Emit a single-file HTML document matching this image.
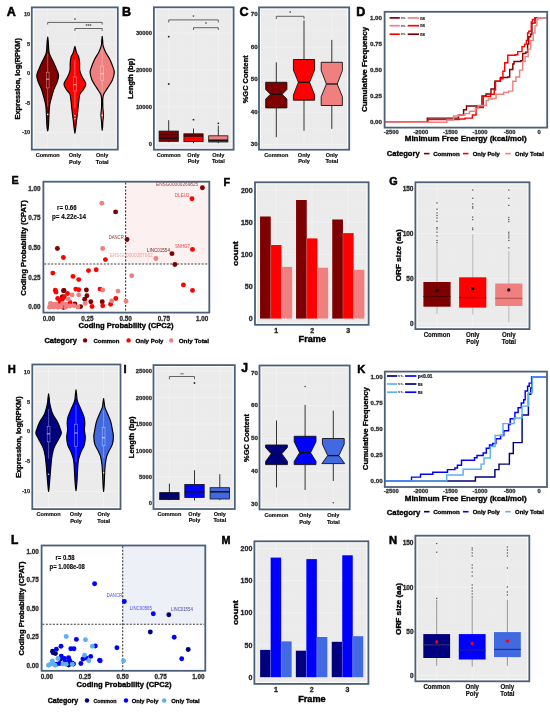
<!DOCTYPE html><html><head><meta charset="utf-8"><style>html,body{margin:0;padding:0;background:#fff;}svg{display:block;will-change:transform;filter:blur(0.3px);font-family:"Liberation Sans", sans-serif;}</style></head><body><svg width="550" height="712" viewBox="0 0 550 712"><rect width="550" height="712" fill="#fff"/><rect x="33.8" y="9.4" width="82" height="138.2" fill="#ebebeb" stroke="none" stroke-width="0"/>
<line x1="33.8" y1="29.05" x2="115.8" y2="29.05" stroke="#ffffff" stroke-width="0.6" stroke-opacity="0.22"/>
<line x1="33.8" y1="58.55" x2="115.8" y2="58.55" stroke="#ffffff" stroke-width="0.6" stroke-opacity="0.22"/>
<line x1="33.8" y1="88.05" x2="115.8" y2="88.05" stroke="#ffffff" stroke-width="0.6" stroke-opacity="0.22"/>
<line x1="33.8" y1="117.55" x2="115.8" y2="117.55" stroke="#ffffff" stroke-width="0.6" stroke-opacity="0.22"/>
<line x1="47.7" y1="9.4" x2="47.7" y2="147.6" stroke="#ffffff" stroke-width="0.9" stroke-opacity="0.36"/>
<line x1="74.9" y1="9.4" x2="74.9" y2="147.6" stroke="#ffffff" stroke-width="0.9" stroke-opacity="0.36"/>
<line x1="102.2" y1="9.4" x2="102.2" y2="147.6" stroke="#ffffff" stroke-width="0.9" stroke-opacity="0.36"/>
<line x1="33.8" y1="14.3" x2="115.8" y2="14.3" stroke="#ffffff" stroke-width="0.9" stroke-opacity="0.36"/>
<line x1="33.8" y1="43.8" x2="115.8" y2="43.8" stroke="#ffffff" stroke-width="0.9" stroke-opacity="0.36"/>
<line x1="33.8" y1="73.3" x2="115.8" y2="73.3" stroke="#ffffff" stroke-width="0.9" stroke-opacity="0.36"/>
<line x1="33.8" y1="102.8" x2="115.8" y2="102.8" stroke="#ffffff" stroke-width="0.9" stroke-opacity="0.36"/>
<line x1="33.8" y1="132.3" x2="115.8" y2="132.3" stroke="#ffffff" stroke-width="0.9" stroke-opacity="0.36"/>
<path d="M47.7,37 C47.78,37.67 48.07,39.57 48.2,41 C48.33,42.43 48.32,43.52 48.5,45.6 C48.68,47.68 48.55,50.88 49.3,53.5 C50.05,56.12 51.8,58.7 53,61.3 C54.2,63.9 55.57,66.77 56.5,69.1 C57.43,71.43 58.47,73.22 58.6,75.3 C58.73,77.38 58.08,79.25 57.3,81.6 C56.52,83.95 54.85,86.8 53.9,89.4 C52.95,92 52.3,94.6 51.6,97.2 C50.9,99.8 50.13,102.13 49.7,105 C49.27,107.87 49.18,111.27 49,114.4 C48.82,117.53 48.73,121.45 48.6,123.8 C48.47,126.15 48.35,127.3 48.2,128.5 C48.05,129.7 47.78,130.58 47.7,131 L47.7,131 C47.62,130.58 47.35,129.7 47.2,128.5 C47.05,127.3 46.93,126.15 46.8,123.8 C46.67,121.45 46.58,117.53 46.4,114.4 C46.22,111.27 46.13,107.87 45.7,105 C45.27,102.13 44.5,99.8 43.8,97.2 C43.1,94.6 42.45,92 41.5,89.4 C40.55,86.8 38.88,83.95 38.1,81.6 C37.32,79.25 36.67,77.38 36.8,75.3 C36.93,73.22 37.97,71.43 38.9,69.1 C39.83,66.77 41.2,63.9 42.4,61.3 C43.6,58.7 45.35,56.12 46.1,53.5 C46.85,50.88 46.72,47.68 46.9,45.6 C47.08,43.52 47.07,42.43 47.2,41 C47.33,39.57 47.62,37.67 47.7,37 Z" fill="#7f0000" stroke="#000" stroke-width="1.15" stroke-linejoin="round"/>
<path d="M74.9,46.4 C75.03,46.92 75.37,48.32 75.7,49.5 C76.03,50.68 76.42,52.32 76.9,53.5 C77.38,54.68 78.15,55.05 78.6,56.6 C79.05,58.15 79.4,60.45 79.6,62.8 C79.8,65.15 79.37,68.35 79.8,70.7 C80.23,73.05 81.2,74.7 82.2,76.9 C83.2,79.1 85.58,81.82 85.8,83.9 C86.02,85.98 84.48,87.7 83.5,89.4 C82.52,91.1 80.7,92.02 79.9,94.1 C79.1,96.18 79.07,99.03 78.7,101.9 C78.33,104.77 78.07,108.17 77.7,111.3 C77.33,114.43 76.83,117.92 76.5,120.7 C76.17,123.48 75.97,125.92 75.7,128 C75.43,130.08 75.03,132.33 74.9,133.2 L74.9,133.2 C74.77,132.33 74.37,130.08 74.1,128 C73.83,125.92 73.63,123.48 73.3,120.7 C72.97,117.92 72.47,114.43 72.1,111.3 C71.73,108.17 71.47,104.77 71.1,101.9 C70.73,99.03 70.7,96.18 69.9,94.1 C69.1,92.02 67.28,91.1 66.3,89.4 C65.32,87.7 63.78,85.98 64,83.9 C64.22,81.82 66.6,79.1 67.6,76.9 C68.6,74.7 69.57,73.05 70,70.7 C70.43,68.35 70,65.15 70.2,62.8 C70.4,60.45 70.75,58.15 71.2,56.6 C71.65,55.05 72.42,54.68 72.9,53.5 C73.38,52.32 73.77,50.68 74.1,49.5 C74.43,48.32 74.77,46.92 74.9,46.4 Z" fill="#ff0000" stroke="#000" stroke-width="1.15" stroke-linejoin="round"/>
<path d="M102.2,36.3 C102.28,37 102.55,38.95 102.7,40.5 C102.85,42.05 102.63,43.7 103.1,45.6 C103.57,47.5 104.35,49.55 105.5,51.9 C106.65,54.25 108.73,57.1 110,59.7 C111.27,62.3 112.38,65.37 113.1,67.5 C113.82,69.63 114.42,70.42 114.3,72.5 C114.18,74.58 113.5,77.43 112.4,80 C111.3,82.57 109.13,85.55 107.7,87.9 C106.27,90.25 104.62,92.28 103.8,94.1 C102.98,95.92 102.97,97.15 102.8,98.8 C102.63,100.45 102.78,102.43 102.8,104 C102.82,105.57 102.78,106.33 102.9,108.2 C103.02,110.07 103.52,112.85 103.5,115.2 C103.48,117.55 102.95,120.33 102.8,122.3 C102.65,124.27 102.7,125.7 102.6,127 C102.5,128.3 102.27,129.58 102.2,130.1 L102.2,130.1 C102.13,129.58 101.9,128.3 101.8,127 C101.7,125.7 101.75,124.27 101.6,122.3 C101.45,120.33 100.92,117.55 100.9,115.2 C100.88,112.85 101.38,110.07 101.5,108.2 C101.62,106.33 101.58,105.57 101.6,104 C101.62,102.43 101.77,100.45 101.6,98.8 C101.43,97.15 101.42,95.92 100.6,94.1 C99.78,92.28 98.13,90.25 96.7,87.9 C95.27,85.55 93.1,82.57 92,80 C90.9,77.43 90.22,74.58 90.1,72.5 C89.98,70.42 90.58,69.63 91.3,67.5 C92.02,65.37 93.13,62.3 94.4,59.7 C95.67,57.1 97.75,54.25 98.9,51.9 C100.05,49.55 100.83,47.5 101.3,45.6 C101.77,43.7 101.55,42.05 101.7,40.5 C101.85,38.95 102.12,37 102.2,36.3 Z" fill="#f08080" stroke="#000" stroke-width="1.15" stroke-linejoin="round"/>
<line x1="47.7" y1="53.5" x2="47.7" y2="72.2" stroke="#ffffff" stroke-width="0.6" stroke-opacity="0.55"/>
<line x1="47.7" y1="87.9" x2="47.7" y2="106.6" stroke="#ffffff" stroke-width="0.6" stroke-opacity="0.55"/>
<rect x="46.3" y="72.2" width="2.8" height="15.7" fill="none" stroke="#ffffff" stroke-width="0.6" stroke-opacity="0.55"/>
<line x1="46.3" y1="79.2" x2="49.1" y2="79.2" stroke="#ffffff" stroke-width="0.9" stroke-opacity="0.8"/>
<circle cx="47.7" cy="114.4" r="0.8" fill="#ffffff" fill-opacity="0.85"/>
<line x1="74.9" y1="59.7" x2="74.9" y2="76.9" stroke="#ffffff" stroke-width="0.6" stroke-opacity="0.55"/>
<line x1="74.9" y1="91" x2="74.9" y2="108.2" stroke="#ffffff" stroke-width="0.6" stroke-opacity="0.55"/>
<rect x="73.5" y="76.9" width="2.8" height="14.1" fill="none" stroke="#ffffff" stroke-width="0.6" stroke-opacity="0.55"/>
<line x1="73.5" y1="84.7" x2="76.3" y2="84.7" stroke="#ffffff" stroke-width="0.9" stroke-opacity="0.8"/>
<circle cx="74.9" cy="115.7" r="0.8" fill="#ffffff" fill-opacity="0.85"/>
<circle cx="74.9" cy="118.8" r="0.8" fill="#ffffff" fill-opacity="0.85"/>
<line x1="102.2" y1="48.8" x2="102.2" y2="66" stroke="#ffffff" stroke-width="0.6" stroke-opacity="0.55"/>
<line x1="102.2" y1="80.8" x2="102.2" y2="92.5" stroke="#ffffff" stroke-width="0.6" stroke-opacity="0.55"/>
<rect x="100.8" y="66" width="2.8" height="14.8" fill="none" stroke="#ffffff" stroke-width="0.6" stroke-opacity="0.55"/>
<line x1="100.8" y1="73.8" x2="103.6" y2="73.8" stroke="#ffffff" stroke-width="0.9" stroke-opacity="0.8"/>
<circle cx="102.2" cy="115.2" r="0.8" fill="#ffffff" fill-opacity="0.85"/>
<path d="M47.7,24.6 L47.7,22.4 L102.2,22.4 L102.2,24.6" fill="none" stroke="#4a4a4a" stroke-width="0.85"/>
<text x="74.95" y="21.8" font-size="5.17" text-anchor="middle" font-weight="bold" fill="#444" stroke="none">*</text>
<path d="M74.9,30.9 L74.9,28.5 L102.2,28.5 L102.2,30.9" fill="none" stroke="#4a4a4a" stroke-width="0.85"/>
<text x="88.55" y="27.7" font-size="5.17" text-anchor="middle" font-weight="bold" fill="#444" stroke="none">***</text>
<rect x="31.8" y="7.4" width="86" height="142.2" fill="none" stroke="#4c6179" stroke-width="1.8"/>
<text x="30.2" y="16.32" font-size="5.6" text-anchor="end" font-weight="bold" fill="#2a2a2a" stroke="#2a2a2a" stroke-width="0.25">10</text>
<text x="30.2" y="45.82" font-size="5.6" text-anchor="end" font-weight="bold" fill="#2a2a2a" stroke="#2a2a2a" stroke-width="0.25">5</text>
<text x="30.2" y="75.32" font-size="5.6" text-anchor="end" font-weight="bold" fill="#2a2a2a" stroke="#2a2a2a" stroke-width="0.25">0</text>
<text x="30.2" y="104.82" font-size="5.6" text-anchor="end" font-weight="bold" fill="#2a2a2a" stroke="#2a2a2a" stroke-width="0.25">-5</text>
<text x="30.2" y="134.32" font-size="5.6" text-anchor="end" font-weight="bold" fill="#2a2a2a" stroke="#2a2a2a" stroke-width="0.25">-10</text>
<text x="0" y="0" font-size="7.35" text-anchor="middle" font-weight="bold" fill="#000" transform="translate(19.7 78.8) scale(0.88 1) rotate(-90)" textLength="81.3" lengthAdjust="spacingAndGlyphs" stroke="#000" stroke-width="0.33">Expression, log(RPKM)</text>
<text x="47.7" y="156.8" font-size="6.16" text-anchor="middle" font-weight="bold" fill="#111" textLength="24.02" lengthAdjust="spacingAndGlyphs" stroke="#000" stroke-width="0.18">Common</text>
<text x="74.9" y="156.8" font-size="6.16" text-anchor="middle" font-weight="bold" fill="#111" textLength="12.32" lengthAdjust="spacingAndGlyphs" stroke="#000" stroke-width="0.18">Only</text>
<text x="74.9" y="163.6" font-size="6.16" text-anchor="middle" font-weight="bold" fill="#111" textLength="11.71" lengthAdjust="spacingAndGlyphs" stroke="#000" stroke-width="0.18">Poly</text>
<text x="102.2" y="156.8" font-size="6.16" text-anchor="middle" font-weight="bold" fill="#111" textLength="12.32" lengthAdjust="spacingAndGlyphs" stroke="#000" stroke-width="0.18">Only</text>
<text x="102.2" y="163.6" font-size="6.16" text-anchor="middle" font-weight="bold" fill="#111" textLength="12.83" lengthAdjust="spacingAndGlyphs" stroke="#000" stroke-width="0.18">Total</text>
<text x="6.8" y="16.2" font-size="12.5" text-anchor="start" font-weight="bold" fill="#000" stroke="#000" stroke-width="0.56">A</text>
<rect x="155.9" y="9.3" width="75.7" height="138.4" fill="#ebebeb" stroke="none" stroke-width="0"/>
<line x1="181.1" y1="9.3" x2="181.1" y2="147.7" stroke="#ffffff" stroke-width="0.6" stroke-opacity="0.22"/>
<line x1="205.9" y1="9.3" x2="205.9" y2="147.7" stroke="#ffffff" stroke-width="0.6" stroke-opacity="0.22"/>
<line x1="155.9" y1="125.18" x2="231.6" y2="125.18" stroke="#ffffff" stroke-width="0.6" stroke-opacity="0.22"/>
<line x1="155.9" y1="88.35" x2="231.6" y2="88.35" stroke="#ffffff" stroke-width="0.6" stroke-opacity="0.22"/>
<line x1="155.9" y1="51.52" x2="231.6" y2="51.52" stroke="#ffffff" stroke-width="0.6" stroke-opacity="0.22"/>
<line x1="155.9" y1="14.68" x2="231.6" y2="14.68" stroke="#ffffff" stroke-width="0.6" stroke-opacity="0.22"/>
<line x1="168.7" y1="9.3" x2="168.7" y2="147.7" stroke="#ffffff" stroke-width="0.9" stroke-opacity="0.36"/>
<line x1="193.5" y1="9.3" x2="193.5" y2="147.7" stroke="#ffffff" stroke-width="0.9" stroke-opacity="0.36"/>
<line x1="218.3" y1="9.3" x2="218.3" y2="147.7" stroke="#ffffff" stroke-width="0.9" stroke-opacity="0.36"/>
<line x1="155.9" y1="143.6" x2="231.6" y2="143.6" stroke="#ffffff" stroke-width="0.9" stroke-opacity="0.36"/>
<line x1="155.9" y1="106.77" x2="231.6" y2="106.77" stroke="#ffffff" stroke-width="0.9" stroke-opacity="0.36"/>
<line x1="155.9" y1="69.93" x2="231.6" y2="69.93" stroke="#ffffff" stroke-width="0.9" stroke-opacity="0.36"/>
<line x1="155.9" y1="33.1" x2="231.6" y2="33.1" stroke="#ffffff" stroke-width="0.9" stroke-opacity="0.36"/>
<line x1="168.7" y1="120.2" x2="168.7" y2="131.1" stroke="#333" stroke-width="1"/>
<line x1="168.7" y1="141.3" x2="168.7" y2="142.2" stroke="#333" stroke-width="1"/>
<rect x="159.1" y="131.1" width="19.2" height="10.2" fill="#7f0000" stroke="#111" stroke-width="0.8"/>
<line x1="159.1" y1="138.1" x2="178.3" y2="138.1" stroke="#111" stroke-width="1.4"/>
<circle cx="168.7" cy="36.7" r="0.9" fill="#222"/>
<circle cx="168.7" cy="84" r="0.9" fill="#222"/>
<line x1="159.1" y1="134.7" x2="178.3" y2="134.7" stroke="#3a0000" stroke-width="0.8"/>
<line x1="193.5" y1="128.5" x2="193.5" y2="133.8" stroke="#333" stroke-width="1"/>
<line x1="193.5" y1="141.6" x2="193.5" y2="143.2" stroke="#333" stroke-width="1"/>
<rect x="183.9" y="133.8" width="19.2" height="7.8" fill="#ff0000" stroke="#111" stroke-width="0.8"/>
<line x1="183.9" y1="135.9" x2="203.1" y2="135.9" stroke="#111" stroke-width="1.6"/>
<circle cx="193.5" cy="119.7" r="0.9" fill="#222"/>
<line x1="183.9" y1="134.6" x2="203.1" y2="134.6" stroke="#5a0000" stroke-width="1.2"/>
<line x1="218.3" y1="125.6" x2="218.3" y2="135.8" stroke="#333" stroke-width="1"/>
<line x1="218.3" y1="142" x2="218.3" y2="143.2" stroke="#333" stroke-width="1"/>
<rect x="208.7" y="135.8" width="19.2" height="6.2" fill="#f08080" stroke="#111" stroke-width="0.8"/>
<line x1="208.7" y1="140.5" x2="227.9" y2="140.5" stroke="#111" stroke-width="2"/>
<circle cx="218.3" cy="123.3" r="0.9" fill="#222"/>
<path d="M168.7,22.5 L168.7,19.9 L218.3,19.9 L218.3,22.5" fill="none" stroke="#4a4a4a" stroke-width="0.85"/>
<text x="193.5" y="19" font-size="4.83" text-anchor="middle" font-weight="bold" fill="#444" stroke="none">*</text>
<path d="M193.5,30 L193.5,27.7 L218.3,27.7 L218.3,30" fill="none" stroke="#4a4a4a" stroke-width="0.85"/>
<text x="205.9" y="26.2" font-size="4.83" text-anchor="middle" font-weight="bold" fill="#444" stroke="none">*</text>
<rect x="153.9" y="7.3" width="79.7" height="142.4" fill="none" stroke="#4c6179" stroke-width="1.8"/>
<text x="152" y="35.19" font-size="5.8" text-anchor="end" font-weight="bold" fill="#2a2a2a" stroke="#2a2a2a" stroke-width="0.26">30000</text>
<text x="152" y="72.02" font-size="5.8" text-anchor="end" font-weight="bold" fill="#2a2a2a" stroke="#2a2a2a" stroke-width="0.26">20000</text>
<text x="152" y="108.85" font-size="5.8" text-anchor="end" font-weight="bold" fill="#2a2a2a" stroke="#2a2a2a" stroke-width="0.26">10000</text>
<text x="152" y="145.69" font-size="5.8" text-anchor="end" font-weight="bold" fill="#2a2a2a" stroke="#2a2a2a" stroke-width="0.26">0</text>
<text x="0" y="0" font-size="7.35" text-anchor="middle" font-weight="bold" fill="#000" transform="translate(132.6 78.5) scale(0.88 1) rotate(-90)" stroke="#000" stroke-width="0.33">Length (bp)</text>
<text x="168.7" y="156.9" font-size="6.16" text-anchor="middle" font-weight="bold" fill="#111" textLength="24.02" lengthAdjust="spacingAndGlyphs" stroke="#000" stroke-width="0.18">Common</text>
<text x="193.5" y="156.9" font-size="6.16" text-anchor="middle" font-weight="bold" fill="#111" textLength="12.32" lengthAdjust="spacingAndGlyphs" stroke="#000" stroke-width="0.18">Only</text>
<text x="193.5" y="163.2" font-size="6.16" text-anchor="middle" font-weight="bold" fill="#111" textLength="11.71" lengthAdjust="spacingAndGlyphs" stroke="#000" stroke-width="0.18">Poly</text>
<text x="218.3" y="156.9" font-size="6.16" text-anchor="middle" font-weight="bold" fill="#111" textLength="12.32" lengthAdjust="spacingAndGlyphs" stroke="#000" stroke-width="0.18">Only</text>
<text x="218.3" y="163.2" font-size="6.16" text-anchor="middle" font-weight="bold" fill="#111" textLength="12.83" lengthAdjust="spacingAndGlyphs" stroke="#000" stroke-width="0.18">Total</text>
<text x="122" y="16.2" font-size="12.5" text-anchor="start" font-weight="bold" fill="#000" stroke="#000" stroke-width="0.56">B</text>
<rect x="261" y="9.4" width="86.2" height="138.3" fill="#ebebeb" stroke="none" stroke-width="0"/>
<line x1="290.15" y1="9.4" x2="290.15" y2="147.7" stroke="#ffffff" stroke-width="0.6" stroke-opacity="0.22"/>
<line x1="317.9" y1="9.4" x2="317.9" y2="147.7" stroke="#ffffff" stroke-width="0.6" stroke-opacity="0.22"/>
<line x1="261" y1="128.45" x2="347.2" y2="128.45" stroke="#ffffff" stroke-width="0.6" stroke-opacity="0.22"/>
<line x1="261" y1="95.95" x2="347.2" y2="95.95" stroke="#ffffff" stroke-width="0.6" stroke-opacity="0.22"/>
<line x1="261" y1="63.45" x2="347.2" y2="63.45" stroke="#ffffff" stroke-width="0.6" stroke-opacity="0.22"/>
<line x1="261" y1="30.95" x2="347.2" y2="30.95" stroke="#ffffff" stroke-width="0.6" stroke-opacity="0.22"/>
<line x1="276.3" y1="9.4" x2="276.3" y2="147.7" stroke="#ffffff" stroke-width="0.9" stroke-opacity="0.36"/>
<line x1="304" y1="9.4" x2="304" y2="147.7" stroke="#ffffff" stroke-width="0.9" stroke-opacity="0.36"/>
<line x1="331.8" y1="9.4" x2="331.8" y2="147.7" stroke="#ffffff" stroke-width="0.9" stroke-opacity="0.36"/>
<line x1="261" y1="144.7" x2="347.2" y2="144.7" stroke="#ffffff" stroke-width="0.9" stroke-opacity="0.36"/>
<line x1="261" y1="112.2" x2="347.2" y2="112.2" stroke="#ffffff" stroke-width="0.9" stroke-opacity="0.36"/>
<line x1="261" y1="79.7" x2="347.2" y2="79.7" stroke="#ffffff" stroke-width="0.9" stroke-opacity="0.36"/>
<line x1="261" y1="47.2" x2="347.2" y2="47.2" stroke="#ffffff" stroke-width="0.9" stroke-opacity="0.36"/>
<line x1="261" y1="14.7" x2="347.2" y2="14.7" stroke="#ffffff" stroke-width="0.9" stroke-opacity="0.36"/>
<line x1="276.3" y1="62.3" x2="276.3" y2="82.3" stroke="#333" stroke-width="1"/>
<line x1="276.3" y1="107.9" x2="276.3" y2="137.2" stroke="#333" stroke-width="1"/>
<path d="M265.7,82.3 L286.9,82.3 L286.9,89.5 L282.1,94.3 L286.9,99 L286.9,107.9 L265.7,107.9 L265.7,99 L270.5,94.3 L265.7,89.5 Z" fill="#7f0000" stroke="#111" stroke-width="0.9" stroke-linejoin="miter"/>
<line x1="270.5" y1="94.3" x2="282.1" y2="94.3" stroke="#111" stroke-width="1.3"/>
<line x1="304" y1="20.4" x2="304" y2="59.5" stroke="#333" stroke-width="1"/>
<line x1="304" y1="100.2" x2="304" y2="130.8" stroke="#333" stroke-width="1"/>
<path d="M293.4,59.5 L314.6,59.5 L314.6,70 L309.6,82.3 L314.6,95 L314.6,100.2 L293.4,100.2 L293.4,95 L298.4,82.3 L293.4,70 Z" fill="#ff0000" stroke="#111" stroke-width="0.9" stroke-linejoin="miter"/>
<line x1="298.4" y1="82.3" x2="309.6" y2="82.3" stroke="#111" stroke-width="1.3"/>
<line x1="331.8" y1="39.9" x2="331.8" y2="62.3" stroke="#333" stroke-width="1"/>
<line x1="331.8" y1="105.5" x2="331.8" y2="128.9" stroke="#333" stroke-width="1"/>
<path d="M321.2,62.3 L342.4,62.3 L342.4,70.5 L337.2,84 L342.4,96.7 L342.4,105.5 L321.2,105.5 L321.2,96.7 L326.4,84 L321.2,70.5 Z" fill="#f08080" stroke="#111" stroke-width="0.9" stroke-linejoin="miter"/>
<line x1="326.4" y1="84" x2="337.2" y2="84" stroke="#111" stroke-width="1.3"/>
<path d="M276.3,19 L276.3,16.3 L304,16.3 L304,19" fill="none" stroke="#4a4a4a" stroke-width="0.85"/>
<text x="290.15" y="15" font-size="4.83" text-anchor="middle" font-weight="bold" fill="#444" stroke="none">*</text>
<rect x="259" y="7.4" width="90.2" height="142.3" fill="none" stroke="#4c6179" stroke-width="1.8"/>
<text x="257.7" y="16.4" font-size="6.2" text-anchor="end" font-weight="bold" fill="#2a2a2a" stroke="#2a2a2a" stroke-width="0.28">70</text>
<text x="257.7" y="48.9" font-size="6.2" text-anchor="end" font-weight="bold" fill="#2a2a2a" stroke="#2a2a2a" stroke-width="0.28">60</text>
<text x="257.7" y="81.4" font-size="6.2" text-anchor="end" font-weight="bold" fill="#2a2a2a" stroke="#2a2a2a" stroke-width="0.28">50</text>
<text x="257.7" y="113.9" font-size="6.2" text-anchor="end" font-weight="bold" fill="#2a2a2a" stroke="#2a2a2a" stroke-width="0.28">40</text>
<text x="257.7" y="146.4" font-size="6.2" text-anchor="end" font-weight="bold" fill="#2a2a2a" stroke="#2a2a2a" stroke-width="0.28">30</text>
<text x="0" y="0" font-size="7.4" text-anchor="middle" font-weight="bold" fill="#000" transform="translate(248.2 79.3) scale(0.88 1) rotate(-90)" textLength="47.9" lengthAdjust="spacingAndGlyphs" stroke="#000" stroke-width="0.33">%GC Content</text>
<text x="276.3" y="156.9" font-size="6.16" text-anchor="middle" font-weight="bold" fill="#111" textLength="24.02" lengthAdjust="spacingAndGlyphs" stroke="#000" stroke-width="0.18">Common</text>
<text x="304" y="156.9" font-size="6.16" text-anchor="middle" font-weight="bold" fill="#111" textLength="12.32" lengthAdjust="spacingAndGlyphs" stroke="#000" stroke-width="0.18">Only</text>
<text x="304" y="163.2" font-size="6.16" text-anchor="middle" font-weight="bold" fill="#111" textLength="11.71" lengthAdjust="spacingAndGlyphs" stroke="#000" stroke-width="0.18">Poly</text>
<text x="331.8" y="156.9" font-size="6.16" text-anchor="middle" font-weight="bold" fill="#111" textLength="12.32" lengthAdjust="spacingAndGlyphs" stroke="#000" stroke-width="0.18">Only</text>
<text x="331.8" y="163.2" font-size="6.16" text-anchor="middle" font-weight="bold" fill="#111" textLength="12.83" lengthAdjust="spacingAndGlyphs" stroke="#000" stroke-width="0.18">Total</text>
<text x="239.6" y="15.8" font-size="12.5" text-anchor="start" font-weight="bold" fill="#000" stroke="#000" stroke-width="0.56">C</text>
<rect x="384.6" y="11.8" width="162.6" height="115.8" fill="#ffffff" stroke="none" stroke-width="0"/>
<path d="M385.4,122.2 L427.3,122.2 L427.3,118.1 L458.5,118.1 L458.5,114.9 L463.6,114.9 L463.6,109.8 L466.5,109.8 L466.5,105.9 L482,105.9 L482,96 L486,96 L486,94 L491,94 L491,89 L494.8,89 L494.8,81.2 L500.4,81.2 L500.4,77.5 L507.8,77.5 L507.8,76.9 L509.7,76.9 L509.7,69.5 L512.8,69.5 L512.8,63.9 L514,63.9 L514,61.5 L520.8,61.5 L520.8,60.8 L522.7,60.8 L522.7,53.4 L525.7,53.4 L525.7,52.2 L527.6,52.2 L527.6,44.1 L528.8,44.1 L528.8,36.7 L530.7,36.7 L530.7,34.3 L531.9,34.3 L531.9,23.1 L535,23.1 L535,17.6 L546.4,17.6" fill="none" stroke="#7f0000" stroke-width="1.45" stroke-linejoin="miter"/>
<path d="M385.4,122.2 L428,122.2 L428,119.6 L459.3,119.6 L459.3,119 L465,119 L465,118.1 L472.4,118.1 L472.4,114.9 L476,114.9 L476,107.6 L483.3,107.6 L483.3,96.5 L490.5,96.5 L490.5,94.2 L494.2,94.2 L494.2,89.9 L495.5,89.9 L495.5,81.2 L500.4,81.2 L500.4,78.8 L502.9,78.8 L502.9,71.3 L504.7,71.3 L504.7,62.7 L507.8,62.7 L507.8,55.3 L515.2,55.3 L515.2,54.7 L517.7,54.7 L517.7,51.6 L522,51.6 L522,46.6 L524.5,46.6 L524.5,44.1 L526.4,44.1 L526.4,40.4 L527.6,40.4 L527.6,33 L528.8,33 L528.8,31.2 L531.3,31.2 L531.3,21.9 L532.5,21.9 L532.5,19.4 L535,19.4 L535,17.6 L546.4,17.6" fill="none" stroke="#ff0000" stroke-width="1.45" stroke-linejoin="miter"/>
<path d="M385.4,122.2 L446.9,122.2 L446.9,120 L453.5,120 L453.5,116 L458.5,116 L458.5,114.9 L465,114.9 L465,113.6 L469.5,113.6 L469.5,111.3 L475.3,111.3 L475.3,108.4 L478.2,108.4 L478.2,105.5 L486.2,105.5 L486.2,100.4 L488.4,100.4 L488.4,99 L492.4,99 L492.4,98.5 L496.1,98.5 L496.1,94.2 L503.5,94.2 L503.5,92.4 L508.4,92.4 L508.4,91.1 L512.8,91.1 L512.8,81.2 L515.9,81.2 L515.9,76.9 L519.6,76.9 L519.6,70.1 L522.7,70.1 L522.7,61.5 L525.1,61.5 L525.1,56.5 L528.2,56.5 L528.2,49.1 L530.7,49.1 L530.7,40.4 L533.2,40.4 L533.2,33 L535,33 L535,25.6 L536.9,25.6 L536.9,19.4 L538.1,19.4 L538.1,17.6 L546.4,17.6" fill="none" stroke="#f08080" stroke-width="1.45" stroke-linejoin="miter"/>
<line x1="389.6" y1="17.9" x2="399.8" y2="17.9" stroke="#7f0000" stroke-width="1.7"/>
<text x="400.7" y="19.1" font-size="3.8" text-anchor="start" font-weight="bold" fill="#333" textLength="5.8" lengthAdjust="spacingAndGlyphs" stroke="none">vs.</text>
<line x1="407.7" y1="17.9" x2="419" y2="17.9" stroke="#f08080" stroke-width="1.7"/>
<text x="420.3" y="19.5" font-size="4.6" text-anchor="start" font-weight="bold" fill="#111" textLength="4.6" lengthAdjust="spacingAndGlyphs" stroke="#111" stroke-width="0.21">ns</text>
<line x1="389.6" y1="25.7" x2="399.8" y2="25.7" stroke="#f08080" stroke-width="1.7"/>
<text x="400.7" y="26.9" font-size="3.8" text-anchor="start" font-weight="bold" fill="#333" textLength="5.8" lengthAdjust="spacingAndGlyphs" stroke="none">vs.</text>
<line x1="407.7" y1="25.7" x2="419" y2="25.7" stroke="#ff0000" stroke-width="1.7"/>
<text x="420.3" y="27.3" font-size="4.6" text-anchor="start" font-weight="bold" fill="#111" textLength="4.6" lengthAdjust="spacingAndGlyphs" stroke="#111" stroke-width="0.21">ns</text>
<line x1="389.6" y1="34.2" x2="399.8" y2="34.2" stroke="#ff0000" stroke-width="1.7"/>
<text x="400.7" y="35.4" font-size="3.8" text-anchor="start" font-weight="bold" fill="#333" textLength="5.8" lengthAdjust="spacingAndGlyphs" stroke="none">vs.</text>
<line x1="407.7" y1="34.2" x2="419" y2="34.2" stroke="#7f0000" stroke-width="1.7"/>
<text x="420.3" y="35.8" font-size="4.6" text-anchor="start" font-weight="bold" fill="#111" textLength="4.6" lengthAdjust="spacingAndGlyphs" stroke="#111" stroke-width="0.21">ns</text>
<rect x="384.6" y="11.8" width="162.6" height="115.8" fill="none" stroke="#4c6179" stroke-width="1.8"/>
<text x="382" y="19.83" font-size="6.2" text-anchor="end" font-weight="bold" fill="#2a2a2a" stroke="#2a2a2a" stroke-width="0.28">1.00</text>
<text x="382" y="45.98" font-size="6.2" text-anchor="end" font-weight="bold" fill="#2a2a2a" stroke="#2a2a2a" stroke-width="0.28">0.75</text>
<text x="382" y="72.13" font-size="6.2" text-anchor="end" font-weight="bold" fill="#2a2a2a" stroke="#2a2a2a" stroke-width="0.28">0.50</text>
<text x="382" y="98.28" font-size="6.2" text-anchor="end" font-weight="bold" fill="#2a2a2a" stroke="#2a2a2a" stroke-width="0.28">0.25</text>
<text x="382" y="124.43" font-size="6.2" text-anchor="end" font-weight="bold" fill="#2a2a2a" stroke="#2a2a2a" stroke-width="0.28">0.00</text>
<text x="391.2" y="133.7" font-size="5.8" text-anchor="middle" font-weight="bold" fill="#2a2a2a" stroke="#2a2a2a" stroke-width="0.26">-2500</text>
<text x="420.8" y="133.7" font-size="5.8" text-anchor="middle" font-weight="bold" fill="#2a2a2a" stroke="#2a2a2a" stroke-width="0.26">-2000</text>
<text x="450.4" y="133.7" font-size="5.8" text-anchor="middle" font-weight="bold" fill="#2a2a2a" stroke="#2a2a2a" stroke-width="0.26">-1500</text>
<text x="480" y="133.7" font-size="5.8" text-anchor="middle" font-weight="bold" fill="#2a2a2a" stroke="#2a2a2a" stroke-width="0.26">-1000</text>
<text x="509.6" y="133.7" font-size="5.8" text-anchor="middle" font-weight="bold" fill="#2a2a2a" stroke="#2a2a2a" stroke-width="0.26">-500</text>
<text x="539.2" y="133.7" font-size="5.8" text-anchor="middle" font-weight="bold" fill="#2a2a2a" stroke="#2a2a2a" stroke-width="0.26">0</text>
<text x="465.7" y="141.4" font-size="7.9" text-anchor="middle" font-weight="bold" fill="#000" textLength="121.8" lengthAdjust="spacingAndGlyphs" stroke="#000" stroke-width="0.36">Minimum Free Energy (kcal/mol)</text>
<text x="0" y="0" font-size="7.95" text-anchor="middle" font-weight="bold" fill="#000" transform="translate(367.3 69.5) scale(0.88 1) rotate(-90)" textLength="85.2" lengthAdjust="spacingAndGlyphs" stroke="#000" stroke-width="0.36">Cumulative Frequency</text>
<text x="386.8" y="156" font-size="7.57" text-anchor="start" font-weight="bold" fill="#000" textLength="32.8" lengthAdjust="spacingAndGlyphs" stroke="#000" stroke-width="0.34">Category</text>
<line x1="424" y1="153.6" x2="429.5" y2="153.6" stroke="#7f0000" stroke-width="1.6"/>
<text x="433.2" y="155.6" font-size="5.9" text-anchor="start" font-weight="bold" fill="#000" textLength="26.6" lengthAdjust="spacingAndGlyphs" stroke="#000" stroke-width="0.27">Common</text>
<line x1="463" y1="153.6" x2="468.5" y2="153.6" stroke="#ff0000" stroke-width="1.6"/>
<text x="472.7" y="155.6" font-size="5.9" text-anchor="start" font-weight="bold" fill="#000" textLength="27.2" lengthAdjust="spacingAndGlyphs" stroke="#000" stroke-width="0.27">Only Poly</text>
<line x1="505.3" y1="153.6" x2="510.8" y2="153.6" stroke="#f08080" stroke-width="1.6"/>
<text x="515.1" y="155.6" font-size="5.9" text-anchor="start" font-weight="bold" fill="#000" textLength="28.7" lengthAdjust="spacingAndGlyphs" stroke="#000" stroke-width="0.27">Only Total</text>
<text x="356.3" y="15.8" font-size="12.5" text-anchor="start" font-weight="bold" fill="#000" stroke="#000" stroke-width="0.56">D</text>
<rect x="43.4" y="181.7" width="165.9" height="130.9" fill="#ffffff" stroke="none" stroke-width="0"/>
<rect x="125.6" y="181.7" width="83.7" height="82.3" fill="#fdf0f0" stroke="none" stroke-width="0"/>
<line x1="125.6" y1="182.5" x2="125.6" y2="311.8" stroke="#3a3a3a" stroke-width="1.1" stroke-dasharray="2.0,1.5"/>
<line x1="44.2" y1="264" x2="208.5" y2="264" stroke="#3a3a3a" stroke-width="1.1" stroke-dasharray="2.0,1.5"/>
<circle cx="202.4" cy="187.7" r="2.45" fill="#7f0000"/>
<circle cx="115.6" cy="211.9" r="2.45" fill="#7f0000"/>
<circle cx="127" cy="239.5" r="2.45" fill="#7f0000"/>
<circle cx="57.4" cy="248.5" r="2.45" fill="#7f0000"/>
<circle cx="172" cy="253.6" r="2.45" fill="#7f0000"/>
<circle cx="174.9" cy="264.5" r="2.45" fill="#7f0000"/>
<circle cx="63.5" cy="290.8" r="2.45" fill="#7f0000"/>
<circle cx="86.4" cy="290" r="2.45" fill="#7f0000"/>
<circle cx="62.3" cy="296.8" r="2.45" fill="#7f0000"/>
<circle cx="86.9" cy="295.7" r="2.45" fill="#7f0000"/>
<circle cx="84.7" cy="299.3" r="2.45" fill="#7f0000"/>
<circle cx="90.8" cy="301.7" r="2.45" fill="#7f0000"/>
<circle cx="102.2" cy="301.7" r="2.45" fill="#7f0000"/>
<circle cx="74.9" cy="303.9" r="2.45" fill="#7f0000"/>
<circle cx="80.6" cy="306.6" r="2.45" fill="#7f0000"/>
<circle cx="64" cy="290.5" r="2.45" fill="#7f0000"/>
<circle cx="57" cy="306" r="2.45" fill="#7f0000"/>
<circle cx="192" cy="198.7" r="2.45" fill="#ff0000"/>
<circle cx="192.5" cy="249.4" r="2.45" fill="#ff0000"/>
<circle cx="105.4" cy="259.6" r="2.45" fill="#ff0000"/>
<circle cx="63.4" cy="257.5" r="2.45" fill="#ff0000"/>
<circle cx="183.4" cy="284.9" r="2.45" fill="#ff0000"/>
<circle cx="192.5" cy="290.4" r="2.45" fill="#ff0000"/>
<circle cx="52.8" cy="273.1" r="2.45" fill="#ff0000"/>
<circle cx="73" cy="276.4" r="2.45" fill="#ff0000"/>
<circle cx="78.7" cy="279.6" r="2.45" fill="#ff0000"/>
<circle cx="88.5" cy="270.6" r="2.45" fill="#ff0000"/>
<circle cx="96.2" cy="269.8" r="2.45" fill="#ff0000"/>
<circle cx="55.3" cy="290.3" r="2.45" fill="#ff0000"/>
<circle cx="56" cy="292" r="2.45" fill="#ff0000"/>
<circle cx="67.5" cy="293.5" r="2.45" fill="#ff0000"/>
<circle cx="75.7" cy="289.1" r="2.45" fill="#ff0000"/>
<circle cx="78.7" cy="289.8" r="2.45" fill="#ff0000"/>
<circle cx="100" cy="289.1" r="2.45" fill="#ff0000"/>
<circle cx="57.7" cy="298.5" r="2.45" fill="#ff0000"/>
<circle cx="62.3" cy="299.3" r="2.45" fill="#ff0000"/>
<circle cx="64.3" cy="296.8" r="2.45" fill="#ff0000"/>
<circle cx="115.8" cy="298.5" r="2.45" fill="#ff0000"/>
<circle cx="110.6" cy="304.2" r="2.45" fill="#ff0000"/>
<circle cx="102.7" cy="305.8" r="2.45" fill="#ff0000"/>
<circle cx="70" cy="302.5" r="2.45" fill="#ff0000"/>
<circle cx="63.5" cy="307.5" r="2.45" fill="#ff0000"/>
<circle cx="92" cy="306.5" r="2.45" fill="#ff0000"/>
<circle cx="60" cy="302" r="2.45" fill="#ff0000"/>
<circle cx="101.8" cy="203.2" r="2.45" fill="#f08080"/>
<circle cx="102.7" cy="248.5" r="2.45" fill="#f08080"/>
<circle cx="155.9" cy="258.5" r="2.45" fill="#f08080"/>
<circle cx="131.7" cy="275.7" r="2.45" fill="#f08080"/>
<circle cx="126" cy="301.3" r="2.45" fill="#f08080"/>
<circle cx="118" cy="291.1" r="2.45" fill="#f08080"/>
<circle cx="102.7" cy="290" r="2.45" fill="#f08080"/>
<circle cx="72.1" cy="294.9" r="2.45" fill="#f08080"/>
<circle cx="78.7" cy="294.9" r="2.45" fill="#f08080"/>
<circle cx="68.4" cy="299.3" r="2.45" fill="#f08080"/>
<circle cx="85.2" cy="303.4" r="2.45" fill="#f08080"/>
<circle cx="111.7" cy="300.9" r="2.45" fill="#f08080"/>
<circle cx="50.4" cy="303.4" r="2.45" fill="#f08080"/>
<circle cx="52.8" cy="304.2" r="2.45" fill="#f08080"/>
<circle cx="51.2" cy="306.6" r="2.45" fill="#f08080"/>
<circle cx="56.1" cy="304.2" r="2.45" fill="#f08080"/>
<circle cx="59.4" cy="305.8" r="2.45" fill="#f08080"/>
<circle cx="62.6" cy="303.4" r="2.45" fill="#f08080"/>
<circle cx="65.9" cy="304.2" r="2.45" fill="#f08080"/>
<circle cx="74.1" cy="305.8" r="2.45" fill="#f08080"/>
<circle cx="54" cy="307" r="2.45" fill="#f08080"/>
<circle cx="58" cy="307.2" r="2.45" fill="#f08080"/>
<circle cx="66" cy="307" r="2.45" fill="#f08080"/>
<circle cx="70" cy="306" r="2.45" fill="#f08080"/>
<circle cx="49.5" cy="307.2" r="2.45" fill="#f08080"/>
<circle cx="61" cy="306.8" r="2.45" fill="#f08080"/>
<circle cx="78" cy="307" r="2.45" fill="#f08080"/>
<text x="177.1" y="186.4" font-size="4.7" text-anchor="middle" font-weight="normal" fill="#9c3c3c" textLength="42.1" lengthAdjust="spacingAndGlyphs">ENSG00000269825</text>
<text x="182.2" y="197" font-size="4.7" text-anchor="middle" font-weight="normal" fill="#ff4040" textLength="14.8" lengthAdjust="spacingAndGlyphs">DLEU2</text>
<text x="116.2" y="238.6" font-size="4.7" text-anchor="middle" font-weight="normal" fill="#8c3030" textLength="15" lengthAdjust="spacingAndGlyphs">DANCR</text>
<text x="182.4" y="248.4" font-size="4.7" text-anchor="middle" font-weight="normal" fill="#ff4040" textLength="15" lengthAdjust="spacingAndGlyphs">SNHG7</text>
<text x="158.4" y="252.4" font-size="4.7" text-anchor="middle" font-weight="normal" fill="#7a2020" textLength="23.1" lengthAdjust="spacingAndGlyphs">LINC01554</text>
<text x="131.2" y="257.1" font-size="4.7" text-anchor="middle" font-weight="normal" fill="#f4a0a0" textLength="43.1" lengthAdjust="spacingAndGlyphs">ENSG00000287062</text>
<text x="66.9" y="209.9" font-size="6.8" text-anchor="middle" font-weight="bold" fill="#000" textLength="19.6" lengthAdjust="spacingAndGlyphs" stroke="#000" stroke-width="0.1">r= 0.66</text>
<text x="69" y="219.2" font-size="6.8" text-anchor="middle" font-weight="bold" fill="#000" textLength="34.1" lengthAdjust="spacingAndGlyphs" stroke="#000" stroke-width="0.1">p= 4.22e-14</text>
<rect x="43.4" y="181.7" width="165.9" height="130.9" fill="none" stroke="#4c6179" stroke-width="1.8"/>
<text x="40.4" y="190.57" font-size="6.3" text-anchor="end" font-weight="bold" fill="#2a2a2a" stroke="#2a2a2a" stroke-width="0.28">1.00</text>
<text x="40.4" y="220.29" font-size="6.3" text-anchor="end" font-weight="bold" fill="#2a2a2a" stroke="#2a2a2a" stroke-width="0.28">0.75</text>
<text x="40.4" y="250.02" font-size="6.3" text-anchor="end" font-weight="bold" fill="#2a2a2a" stroke="#2a2a2a" stroke-width="0.28">0.50</text>
<text x="40.4" y="279.74" font-size="6.3" text-anchor="end" font-weight="bold" fill="#2a2a2a" stroke="#2a2a2a" stroke-width="0.28">0.25</text>
<text x="40.4" y="309.47" font-size="6.3" text-anchor="end" font-weight="bold" fill="#2a2a2a" stroke="#2a2a2a" stroke-width="0.28">0.00</text>
<text x="49" y="320.6" font-size="6.3" text-anchor="middle" font-weight="bold" fill="#2a2a2a" stroke="#2a2a2a" stroke-width="0.28">0.00</text>
<text x="87.3" y="320.6" font-size="6.3" text-anchor="middle" font-weight="bold" fill="#2a2a2a" stroke="#2a2a2a" stroke-width="0.28">0.25</text>
<text x="125.6" y="320.6" font-size="6.3" text-anchor="middle" font-weight="bold" fill="#2a2a2a" stroke="#2a2a2a" stroke-width="0.28">0.50</text>
<text x="163.9" y="320.6" font-size="6.3" text-anchor="middle" font-weight="bold" fill="#2a2a2a" stroke="#2a2a2a" stroke-width="0.28">0.75</text>
<text x="202.2" y="320.6" font-size="6.3" text-anchor="middle" font-weight="bold" fill="#2a2a2a" stroke="#2a2a2a" stroke-width="0.28">1.00</text>
<text x="126" y="328.3" font-size="7.6" text-anchor="middle" font-weight="bold" fill="#000" stroke="#000" stroke-width="0.34">Coding Probability (CPC2)</text>
<text x="0" y="0" font-size="7.7" text-anchor="middle" font-weight="bold" fill="#000" transform="translate(26.2 247.9) scale(0.88 1) rotate(-90)" stroke="#000" stroke-width="0.35">Coding Probability (CPAT)</text>
<text x="44.4" y="343" font-size="7.5" text-anchor="start" font-weight="bold" fill="#000" textLength="32.4" lengthAdjust="spacingAndGlyphs" stroke="#000" stroke-width="0.34">Category</text>
<circle cx="85.1" cy="340.4" r="2.2" fill="#7f0000"/>
<text x="93.4" y="342.5" font-size="6" text-anchor="start" font-weight="bold" fill="#000" textLength="26" lengthAdjust="spacingAndGlyphs" stroke="#000" stroke-width="0.27">Common</text>
<circle cx="128.6" cy="340.4" r="2.2" fill="#ff0000"/>
<text x="135.5" y="342.5" font-size="6" text-anchor="start" font-weight="bold" fill="#000" textLength="28" lengthAdjust="spacingAndGlyphs" stroke="#000" stroke-width="0.27">Only Poly</text>
<circle cx="171.2" cy="340.4" r="2.2" fill="#f08080"/>
<text x="178.7" y="342.5" font-size="6" text-anchor="start" font-weight="bold" fill="#000" textLength="30.3" lengthAdjust="spacingAndGlyphs" stroke="#000" stroke-width="0.27">Only Total</text>
<text x="11.6" y="184.2" font-size="10.8" text-anchor="start" font-weight="bold" fill="#000" stroke="#000" stroke-width="0.49">E</text>
<rect x="257" y="184.3" width="109.6" height="138.5" fill="#ebebeb" stroke="none" stroke-width="0"/>
<line x1="294.1" y1="184.3" x2="294.1" y2="322.8" stroke="#ffffff" stroke-width="0.6" stroke-opacity="0.22"/>
<line x1="330.2" y1="184.3" x2="330.2" y2="322.8" stroke="#ffffff" stroke-width="0.6" stroke-opacity="0.22"/>
<line x1="257" y1="302.53" x2="366.6" y2="302.53" stroke="#ffffff" stroke-width="0.6" stroke-opacity="0.22"/>
<line x1="257" y1="270.38" x2="366.6" y2="270.38" stroke="#ffffff" stroke-width="0.6" stroke-opacity="0.22"/>
<line x1="257" y1="238.23" x2="366.6" y2="238.23" stroke="#ffffff" stroke-width="0.6" stroke-opacity="0.22"/>
<line x1="257" y1="206.08" x2="366.6" y2="206.08" stroke="#ffffff" stroke-width="0.6" stroke-opacity="0.22"/>
<line x1="276.1" y1="184.3" x2="276.1" y2="322.8" stroke="#ffffff" stroke-width="0.9" stroke-opacity="0.36"/>
<line x1="312.1" y1="184.3" x2="312.1" y2="322.8" stroke="#ffffff" stroke-width="0.9" stroke-opacity="0.36"/>
<line x1="348.3" y1="184.3" x2="348.3" y2="322.8" stroke="#ffffff" stroke-width="0.9" stroke-opacity="0.36"/>
<line x1="257" y1="318.6" x2="366.6" y2="318.6" stroke="#ffffff" stroke-width="0.9" stroke-opacity="0.36"/>
<line x1="257" y1="286.45" x2="366.6" y2="286.45" stroke="#ffffff" stroke-width="0.9" stroke-opacity="0.36"/>
<line x1="257" y1="254.3" x2="366.6" y2="254.3" stroke="#ffffff" stroke-width="0.9" stroke-opacity="0.36"/>
<line x1="257" y1="222.15" x2="366.6" y2="222.15" stroke="#ffffff" stroke-width="0.9" stroke-opacity="0.36"/>
<line x1="257" y1="190" x2="366.6" y2="190" stroke="#ffffff" stroke-width="0.9" stroke-opacity="0.36"/>
<rect x="260.05" y="216.5" width="10.7" height="102.1" fill="#7f0000" stroke="none" stroke-width="0"/>
<rect x="270.75" y="245" width="10.7" height="73.6" fill="#ff0000" stroke="none" stroke-width="0"/>
<line x1="270.75" y1="245" x2="270.75" y2="318.6" stroke="#ffffff" stroke-width="0.35" stroke-opacity="0.5"/>
<rect x="281.45" y="266.9" width="10.7" height="51.7" fill="#f08080" stroke="none" stroke-width="0"/>
<line x1="281.45" y1="266.9" x2="281.45" y2="318.6" stroke="#ffffff" stroke-width="0.35" stroke-opacity="0.5"/>
<rect x="296.05" y="200" width="10.7" height="118.6" fill="#7f0000" stroke="none" stroke-width="0"/>
<rect x="306.75" y="238.4" width="10.7" height="80.2" fill="#ff0000" stroke="none" stroke-width="0"/>
<line x1="306.75" y1="238.4" x2="306.75" y2="318.6" stroke="#ffffff" stroke-width="0.35" stroke-opacity="0.5"/>
<rect x="317.45" y="267.7" width="10.7" height="50.9" fill="#f08080" stroke="none" stroke-width="0"/>
<line x1="317.45" y1="267.7" x2="317.45" y2="318.6" stroke="#ffffff" stroke-width="0.35" stroke-opacity="0.5"/>
<rect x="332.25" y="219.5" width="10.7" height="99.1" fill="#7f0000" stroke="none" stroke-width="0"/>
<rect x="342.95" y="233.1" width="10.7" height="85.5" fill="#ff0000" stroke="none" stroke-width="0"/>
<line x1="342.95" y1="233.1" x2="342.95" y2="318.6" stroke="#ffffff" stroke-width="0.35" stroke-opacity="0.5"/>
<rect x="353.65" y="269.8" width="10.7" height="48.8" fill="#f08080" stroke="none" stroke-width="0"/>
<line x1="353.65" y1="269.8" x2="353.65" y2="318.6" stroke="#ffffff" stroke-width="0.35" stroke-opacity="0.5"/>
<rect x="255" y="182.3" width="113.6" height="142.5" fill="none" stroke="#4c6179" stroke-width="1.8"/>
<text x="252.6" y="192.52" font-size="7" text-anchor="end" font-weight="bold" fill="#2a2a2a" stroke="#2a2a2a" stroke-width="0.32">200</text>
<text x="252.6" y="224.67" font-size="7" text-anchor="end" font-weight="bold" fill="#2a2a2a" stroke="#2a2a2a" stroke-width="0.32">150</text>
<text x="252.6" y="256.82" font-size="7" text-anchor="end" font-weight="bold" fill="#2a2a2a" stroke="#2a2a2a" stroke-width="0.32">100</text>
<text x="252.6" y="288.97" font-size="7" text-anchor="end" font-weight="bold" fill="#2a2a2a" stroke="#2a2a2a" stroke-width="0.32">50</text>
<text x="252.6" y="321.12" font-size="7" text-anchor="end" font-weight="bold" fill="#2a2a2a" stroke="#2a2a2a" stroke-width="0.32">0</text>
<text x="276.1" y="333.3" font-size="7" text-anchor="middle" font-weight="bold" fill="#222" stroke="#222" stroke-width="0.32">1</text>
<text x="312.1" y="333.3" font-size="7" text-anchor="middle" font-weight="bold" fill="#222" stroke="#222" stroke-width="0.32">2</text>
<text x="348.3" y="333.3" font-size="7" text-anchor="middle" font-weight="bold" fill="#222" stroke="#222" stroke-width="0.32">3</text>
<text x="312.3" y="341.6" font-size="9.1" text-anchor="middle" font-weight="bold" fill="#000" textLength="27.4" lengthAdjust="spacingAndGlyphs" stroke="#000" stroke-width="0.41">Frame</text>
<text x="0" y="0" font-size="9.1" text-anchor="middle" font-weight="bold" fill="#000" transform="translate(237.8 253.55) scale(0.88 1) rotate(-90)" stroke="#000" stroke-width="0.41">count</text>
<text x="223.6" y="185.6" font-size="10.8" text-anchor="start" font-weight="bold" fill="#000" stroke="#000" stroke-width="0.49">F</text>
<rect x="417.4" y="184.3" width="110.1" height="142.8" fill="#ebebeb" stroke="none" stroke-width="0"/>
<line x1="454.85" y1="184.3" x2="454.85" y2="327.1" stroke="#ffffff" stroke-width="0.6" stroke-opacity="0.22"/>
<line x1="490.75" y1="184.3" x2="490.75" y2="327.1" stroke="#ffffff" stroke-width="0.6" stroke-opacity="0.22"/>
<line x1="417.4" y1="301" x2="527.5" y2="301" stroke="#ffffff" stroke-width="0.6" stroke-opacity="0.22"/>
<line x1="417.4" y1="256" x2="527.5" y2="256" stroke="#ffffff" stroke-width="0.6" stroke-opacity="0.22"/>
<line x1="417.4" y1="211" x2="527.5" y2="211" stroke="#ffffff" stroke-width="0.6" stroke-opacity="0.22"/>
<line x1="437" y1="184.3" x2="437" y2="327.1" stroke="#ffffff" stroke-width="0.9" stroke-opacity="0.36"/>
<line x1="472.7" y1="184.3" x2="472.7" y2="327.1" stroke="#ffffff" stroke-width="0.9" stroke-opacity="0.36"/>
<line x1="508.8" y1="184.3" x2="508.8" y2="327.1" stroke="#ffffff" stroke-width="0.9" stroke-opacity="0.36"/>
<line x1="417.4" y1="323.5" x2="527.5" y2="323.5" stroke="#ffffff" stroke-width="0.9" stroke-opacity="0.36"/>
<line x1="417.4" y1="278.5" x2="527.5" y2="278.5" stroke="#ffffff" stroke-width="0.9" stroke-opacity="0.36"/>
<line x1="417.4" y1="233.5" x2="527.5" y2="233.5" stroke="#ffffff" stroke-width="0.9" stroke-opacity="0.36"/>
<line x1="417.4" y1="188.5" x2="527.5" y2="188.5" stroke="#ffffff" stroke-width="0.9" stroke-opacity="0.36"/>
<line x1="437" y1="243.7" x2="437" y2="314" stroke="#c4c4c4" stroke-width="1.3"/>
<rect x="423.4" y="282" width="27.2" height="24.7" fill="#7f0000" stroke="none" stroke-width="0"/>
<line x1="423.4" y1="296.5" x2="450.6" y2="296.5" stroke="#4a0000" stroke-width="1.1"/>
<circle cx="437" cy="290.7" r="1.65" fill="#000"/>
<rect x="436.4" y="202.3" width="1.2" height="1.2" fill="#444" stroke="none" stroke-width="0"/>
<rect x="436.4" y="208.6" width="1.2" height="1.2" fill="#444" stroke="none" stroke-width="0"/>
<rect x="436.4" y="212.3" width="1.2" height="1.2" fill="#444" stroke="none" stroke-width="0"/>
<rect x="436.4" y="214.9" width="1.2" height="1.2" fill="#444" stroke="none" stroke-width="0"/>
<rect x="436.4" y="217.4" width="1.2" height="1.2" fill="#444" stroke="none" stroke-width="0"/>
<rect x="436.4" y="220.7" width="1.2" height="1.2" fill="#444" stroke="none" stroke-width="0"/>
<rect x="436.4" y="227" width="1.2" height="1.2" fill="#444" stroke="none" stroke-width="0"/>
<rect x="436.4" y="228.4" width="1.2" height="1.2" fill="#444" stroke="none" stroke-width="0"/>
<rect x="436.4" y="231.6" width="1.2" height="1.2" fill="#444" stroke="none" stroke-width="0"/>
<rect x="436.4" y="235.4" width="1.2" height="1.2" fill="#444" stroke="none" stroke-width="0"/>
<rect x="436.4" y="239.9" width="1.2" height="1.2" fill="#444" stroke="none" stroke-width="0"/>
<rect x="436.4" y="242" width="1.2" height="1.2" fill="#444" stroke="none" stroke-width="0"/>
<line x1="472.7" y1="234.3" x2="472.7" y2="314.6" stroke="#c4c4c4" stroke-width="1.3"/>
<rect x="459.1" y="277.3" width="27.2" height="30.3" fill="#ff0000" stroke="none" stroke-width="0"/>
<line x1="459.1" y1="297.7" x2="486.3" y2="297.7" stroke="#a00000" stroke-width="1.1"/>
<circle cx="472.7" cy="288.7" r="1.65" fill="#000"/>
<rect x="472.1" y="189.4" width="1.2" height="1.2" fill="#444" stroke="none" stroke-width="0"/>
<rect x="472.1" y="197.7" width="1.2" height="1.2" fill="#444" stroke="none" stroke-width="0"/>
<rect x="472.1" y="203.4" width="1.2" height="1.2" fill="#444" stroke="none" stroke-width="0"/>
<rect x="472.1" y="206.1" width="1.2" height="1.2" fill="#444" stroke="none" stroke-width="0"/>
<rect x="472.1" y="207.5" width="1.2" height="1.2" fill="#444" stroke="none" stroke-width="0"/>
<rect x="472.1" y="216.5" width="1.2" height="1.2" fill="#444" stroke="none" stroke-width="0"/>
<rect x="472.1" y="219" width="1.2" height="1.2" fill="#444" stroke="none" stroke-width="0"/>
<rect x="472.1" y="227.4" width="1.2" height="1.2" fill="#444" stroke="none" stroke-width="0"/>
<rect x="472.1" y="229.1" width="1.2" height="1.2" fill="#444" stroke="none" stroke-width="0"/>
<line x1="508.8" y1="251" x2="508.8" y2="322.2" stroke="#c4c4c4" stroke-width="1.3"/>
<rect x="495.2" y="283.5" width="27.2" height="22.5" fill="#f08080" stroke="none" stroke-width="0"/>
<line x1="495.2" y1="298.3" x2="522.4" y2="298.3" stroke="#b05050" stroke-width="1.1"/>
<circle cx="508.8" cy="289.9" r="1.65" fill="#000"/>
<rect x="508.2" y="189.4" width="1.2" height="1.2" fill="#444" stroke="none" stroke-width="0"/>
<rect x="508.2" y="197.7" width="1.2" height="1.2" fill="#444" stroke="none" stroke-width="0"/>
<rect x="508.2" y="204.8" width="1.2" height="1.2" fill="#444" stroke="none" stroke-width="0"/>
<rect x="508.2" y="216.9" width="1.2" height="1.2" fill="#444" stroke="none" stroke-width="0"/>
<rect x="508.2" y="219" width="1.2" height="1.2" fill="#444" stroke="none" stroke-width="0"/>
<rect x="508.2" y="221.1" width="1.2" height="1.2" fill="#444" stroke="none" stroke-width="0"/>
<rect x="508.2" y="231.6" width="1.2" height="1.2" fill="#444" stroke="none" stroke-width="0"/>
<rect x="508.2" y="233.3" width="1.2" height="1.2" fill="#444" stroke="none" stroke-width="0"/>
<rect x="508.2" y="235.4" width="1.2" height="1.2" fill="#444" stroke="none" stroke-width="0"/>
<rect x="508.2" y="237.4" width="1.2" height="1.2" fill="#444" stroke="none" stroke-width="0"/>
<rect x="508.2" y="239.9" width="1.2" height="1.2" fill="#444" stroke="none" stroke-width="0"/>
<rect x="508.2" y="247.3" width="1.2" height="1.2" fill="#444" stroke="none" stroke-width="0"/>
<rect x="415.4" y="182.3" width="114.1" height="146.8" fill="none" stroke="#4c6179" stroke-width="1.8"/>
<text x="413.5" y="190.84" font-size="6.5" text-anchor="end" font-weight="bold" fill="#2a2a2a" stroke="#2a2a2a" stroke-width="0.29">150</text>
<text x="413.5" y="235.84" font-size="6.5" text-anchor="end" font-weight="bold" fill="#2a2a2a" stroke="#2a2a2a" stroke-width="0.29">100</text>
<text x="413.5" y="280.84" font-size="6.5" text-anchor="end" font-weight="bold" fill="#2a2a2a" stroke="#2a2a2a" stroke-width="0.29">50</text>
<text x="413.5" y="325.84" font-size="6.5" text-anchor="end" font-weight="bold" fill="#2a2a2a" stroke="#2a2a2a" stroke-width="0.29">0</text>
<text x="0" y="0" font-size="8.2" text-anchor="middle" font-weight="bold" fill="#000" transform="translate(401 255.3) scale(0.88 1) rotate(-90)" stroke="#000" stroke-width="0.37">ORF size (aa)</text>
<text x="437" y="336.5" font-size="6.82" text-anchor="middle" font-weight="bold" fill="#111" textLength="26.6" lengthAdjust="spacingAndGlyphs" stroke="#000" stroke-width="0.18">Common</text>
<text x="472.7" y="336.5" font-size="6.82" text-anchor="middle" font-weight="bold" fill="#111" textLength="13.64" lengthAdjust="spacingAndGlyphs" stroke="#000" stroke-width="0.18">Only</text>
<text x="472.7" y="343.5" font-size="6.82" text-anchor="middle" font-weight="bold" fill="#111" textLength="12.96" lengthAdjust="spacingAndGlyphs" stroke="#000" stroke-width="0.18">Poly</text>
<text x="508.8" y="336.5" font-size="6.82" text-anchor="middle" font-weight="bold" fill="#111" textLength="13.64" lengthAdjust="spacingAndGlyphs" stroke="#000" stroke-width="0.18">Only</text>
<text x="508.8" y="343.5" font-size="6.82" text-anchor="middle" font-weight="bold" fill="#111" textLength="14.21" lengthAdjust="spacingAndGlyphs" stroke="#000" stroke-width="0.18">Total</text>
<text x="389.2" y="185" font-size="10.8" text-anchor="start" font-weight="bold" fill="#000" stroke="#000" stroke-width="0.49">G</text>
<rect x="34.3" y="366.5" width="84.2" height="140.6" fill="#ebebeb" stroke="none" stroke-width="0"/>
<line x1="34.3" y1="386.55" x2="118.5" y2="386.55" stroke="#ffffff" stroke-width="0.6" stroke-opacity="0.22"/>
<line x1="34.3" y1="416.45" x2="118.5" y2="416.45" stroke="#ffffff" stroke-width="0.6" stroke-opacity="0.22"/>
<line x1="34.3" y1="446.4" x2="118.5" y2="446.4" stroke="#ffffff" stroke-width="0.6" stroke-opacity="0.22"/>
<line x1="34.3" y1="476.35" x2="118.5" y2="476.35" stroke="#ffffff" stroke-width="0.6" stroke-opacity="0.22"/>
<line x1="48.6" y1="366.5" x2="48.6" y2="507.1" stroke="#ffffff" stroke-width="0.9" stroke-opacity="0.36"/>
<line x1="76" y1="366.5" x2="76" y2="507.1" stroke="#ffffff" stroke-width="0.9" stroke-opacity="0.36"/>
<line x1="103.6" y1="366.5" x2="103.6" y2="507.1" stroke="#ffffff" stroke-width="0.9" stroke-opacity="0.36"/>
<line x1="34.3" y1="371.6" x2="118.5" y2="371.6" stroke="#ffffff" stroke-width="0.9" stroke-opacity="0.36"/>
<line x1="34.3" y1="401.5" x2="118.5" y2="401.5" stroke="#ffffff" stroke-width="0.9" stroke-opacity="0.36"/>
<line x1="34.3" y1="431.4" x2="118.5" y2="431.4" stroke="#ffffff" stroke-width="0.9" stroke-opacity="0.36"/>
<line x1="34.3" y1="461.4" x2="118.5" y2="461.4" stroke="#ffffff" stroke-width="0.9" stroke-opacity="0.36"/>
<line x1="34.3" y1="491.3" x2="118.5" y2="491.3" stroke="#ffffff" stroke-width="0.9" stroke-opacity="0.36"/>
<path d="M48.6,393.8 C48.7,394.5 48.98,396.27 49.2,398 C49.42,399.73 49.33,401.57 49.9,404.2 C50.47,406.83 51.35,410.87 52.6,413.8 C53.85,416.73 56.07,419.13 57.4,421.8 C58.73,424.47 59.97,427.8 60.6,429.8 C61.23,431.8 61.57,432.2 61.2,433.8 C60.83,435.4 59.57,437.13 58.4,439.4 C57.23,441.67 55.25,444.73 54.2,447.4 C53.15,450.07 52.63,452.47 52.1,455.4 C51.57,458.33 51.32,461.8 51,465 C50.68,468.2 50.47,471.4 50.2,474.6 C49.93,477.8 49.6,481.88 49.4,484.2 C49.2,486.52 49.13,487.3 49,488.5 C48.87,489.7 48.67,490.92 48.6,491.4 L48.6,491.4 C48.53,490.92 48.33,489.7 48.2,488.5 C48.07,487.3 48,486.52 47.8,484.2 C47.6,481.88 47.27,477.8 47,474.6 C46.73,471.4 46.52,468.2 46.2,465 C45.88,461.8 45.63,458.33 45.1,455.4 C44.57,452.47 44.05,450.07 43,447.4 C41.95,444.73 39.97,441.67 38.8,439.4 C37.63,437.13 36.37,435.4 36,433.8 C35.63,432.2 35.97,431.8 36.6,429.8 C37.23,427.8 38.47,424.47 39.8,421.8 C41.13,419.13 43.35,416.73 44.6,413.8 C45.85,410.87 46.73,406.83 47.3,404.2 C47.87,401.57 47.78,399.73 48,398 C48.22,396.27 48.5,394.5 48.6,393.8 Z" fill="#00007f" stroke="#000" stroke-width="1.15" stroke-linejoin="round"/>
<path d="M76,389.8 C76.1,390.58 76.37,392.63 76.6,394.5 C76.83,396.37 76.7,398.58 77.4,401 C78.1,403.42 79.7,406.33 80.8,409 C81.9,411.67 83.33,414.6 84,417 C84.67,419.4 84.73,421.27 84.8,423.4 C84.87,425.53 84.32,427.4 84.4,429.8 C84.48,432.2 85.37,435.13 85.3,437.8 C85.23,440.47 84.75,443.4 84,445.8 C83.25,448.2 81.73,449.8 80.8,452.2 C79.87,454.6 78.93,457.27 78.4,460.2 C77.87,463.13 77.83,466.33 77.6,469.8 C77.37,473.27 77.18,478.13 77,481 C76.82,483.87 76.67,485.4 76.5,487 C76.33,488.6 76.08,490 76,490.6 L76,490.6 C75.92,490 75.67,488.6 75.5,487 C75.33,485.4 75.18,483.87 75,481 C74.82,478.13 74.63,473.27 74.4,469.8 C74.17,466.33 74.13,463.13 73.6,460.2 C73.07,457.27 72.13,454.6 71.2,452.2 C70.27,449.8 68.75,448.2 68,445.8 C67.25,443.4 66.77,440.47 66.7,437.8 C66.63,435.13 67.52,432.2 67.6,429.8 C67.68,427.4 67.13,425.53 67.2,423.4 C67.27,421.27 67.33,419.4 68,417 C68.67,414.6 70.1,411.67 71.2,409 C72.3,406.33 73.9,403.42 74.6,401 C75.3,398.58 75.17,396.37 75.4,394.5 C75.63,392.63 75.9,390.58 76,389.8 Z" fill="#0000ff" stroke="#000" stroke-width="1.15" stroke-linejoin="round"/>
<path d="M103.6,398.6 C103.7,399.25 103.98,401.03 104.2,402.5 C104.42,403.97 104.33,405.52 104.9,407.4 C105.47,409.28 106.62,411.4 107.6,413.8 C108.58,416.2 110,419.13 110.8,421.8 C111.6,424.47 111.97,427.4 112.4,429.8 C112.83,432.2 113.4,433.8 113.4,436.2 C113.4,438.6 113.1,441.8 112.4,444.2 C111.7,446.6 110.18,448.47 109.2,450.6 C108.22,452.73 107.17,454.6 106.5,457 C105.83,459.4 105.52,462.07 105.2,465 C104.88,467.93 104.77,471.43 104.6,474.6 C104.43,477.77 104.32,481.68 104.2,484 C104.08,486.32 104,487.27 103.9,488.5 C103.8,489.73 103.65,490.92 103.6,491.4 L103.6,491.4 C103.55,490.92 103.4,489.73 103.3,488.5 C103.2,487.27 103.12,486.32 103,484 C102.88,481.68 102.77,477.77 102.6,474.6 C102.43,471.43 102.32,467.93 102,465 C101.68,462.07 101.37,459.4 100.7,457 C100.03,454.6 98.98,452.73 98,450.6 C97.02,448.47 95.5,446.6 94.8,444.2 C94.1,441.8 93.8,438.6 93.8,436.2 C93.8,433.8 94.37,432.2 94.8,429.8 C95.23,427.4 95.6,424.47 96.4,421.8 C97.2,419.13 98.62,416.2 99.6,413.8 C100.58,411.4 101.73,409.28 102.3,407.4 C102.87,405.52 102.78,403.97 103,402.5 C103.22,401.03 103.5,399.25 103.6,398.6 Z" fill="#4169e1" stroke="#000" stroke-width="1.15" stroke-linejoin="round"/>
<line x1="48.6" y1="409" x2="48.6" y2="426.3" stroke="#ffffff" stroke-width="0.6" stroke-opacity="0.55"/>
<line x1="48.6" y1="441.8" x2="48.6" y2="458.6" stroke="#ffffff" stroke-width="0.6" stroke-opacity="0.55"/>
<rect x="47.2" y="426.3" width="2.8" height="15.5" fill="none" stroke="#ffffff" stroke-width="0.6" stroke-opacity="0.55"/>
<line x1="47.2" y1="433.8" x2="50" y2="433.8" stroke="#ffffff" stroke-width="0.9" stroke-opacity="0.8"/>
<circle cx="48.6" cy="474.3" r="0.8" fill="#ffffff" fill-opacity="0.85"/>
<line x1="76" y1="405" x2="76" y2="424.2" stroke="#ffffff" stroke-width="0.6" stroke-opacity="0.55"/>
<line x1="76" y1="446.6" x2="76" y2="462" stroke="#ffffff" stroke-width="0.6" stroke-opacity="0.55"/>
<rect x="74.6" y="424.2" width="2.8" height="22.4" fill="none" stroke="#ffffff" stroke-width="0.6" stroke-opacity="0.55"/>
<line x1="74.6" y1="433" x2="77.4" y2="433" stroke="#ffffff" stroke-width="0.9" stroke-opacity="0.8"/>
<line x1="103.6" y1="410" x2="103.6" y2="427.4" stroke="#ffffff" stroke-width="0.6" stroke-opacity="0.55"/>
<line x1="103.6" y1="445.8" x2="103.6" y2="458" stroke="#ffffff" stroke-width="0.6" stroke-opacity="0.55"/>
<rect x="102.2" y="427.4" width="2.8" height="18.4" fill="none" stroke="#ffffff" stroke-width="0.6" stroke-opacity="0.55"/>
<line x1="102.2" y1="437.8" x2="105" y2="437.8" stroke="#ffffff" stroke-width="0.9" stroke-opacity="0.8"/>
<circle cx="103.6" cy="472.7" r="0.8" fill="#ffffff" fill-opacity="0.85"/>
<rect x="32.3" y="364.5" width="88.2" height="144.6" fill="none" stroke="#4c6179" stroke-width="1.8"/>
<text x="30" y="373.62" font-size="5.6" text-anchor="end" font-weight="bold" fill="#2a2a2a" stroke="#2a2a2a" stroke-width="0.25">10</text>
<text x="30" y="403.52" font-size="5.6" text-anchor="end" font-weight="bold" fill="#2a2a2a" stroke="#2a2a2a" stroke-width="0.25">5</text>
<text x="30" y="433.42" font-size="5.6" text-anchor="end" font-weight="bold" fill="#2a2a2a" stroke="#2a2a2a" stroke-width="0.25">0</text>
<text x="30" y="463.42" font-size="5.6" text-anchor="end" font-weight="bold" fill="#2a2a2a" stroke="#2a2a2a" stroke-width="0.25">-5</text>
<text x="30" y="493.32" font-size="5.6" text-anchor="end" font-weight="bold" fill="#2a2a2a" stroke="#2a2a2a" stroke-width="0.25">-10</text>
<text x="0" y="0" font-size="7.35" text-anchor="middle" font-weight="bold" fill="#000" transform="translate(21 437) scale(0.88 1) rotate(-90)" textLength="81.3" lengthAdjust="spacingAndGlyphs" stroke="#000" stroke-width="0.33">Expression, log(RPKM)</text>
<text x="48.6" y="516.2" font-size="6.16" text-anchor="middle" font-weight="bold" fill="#111" textLength="24.02" lengthAdjust="spacingAndGlyphs" stroke="#000" stroke-width="0.18">Common</text>
<text x="76" y="516.2" font-size="6.16" text-anchor="middle" font-weight="bold" fill="#111" textLength="12.32" lengthAdjust="spacingAndGlyphs" stroke="#000" stroke-width="0.18">Only</text>
<text x="76" y="522.6" font-size="6.16" text-anchor="middle" font-weight="bold" fill="#111" textLength="11.71" lengthAdjust="spacingAndGlyphs" stroke="#000" stroke-width="0.18">Poly</text>
<text x="103.6" y="516.2" font-size="6.16" text-anchor="middle" font-weight="bold" fill="#111" textLength="12.32" lengthAdjust="spacingAndGlyphs" stroke="#000" stroke-width="0.18">Only</text>
<text x="103.6" y="522.6" font-size="6.16" text-anchor="middle" font-weight="bold" fill="#111" textLength="12.83" lengthAdjust="spacingAndGlyphs" stroke="#000" stroke-width="0.18">Total</text>
<text x="7.8" y="372.6" font-size="11.2" text-anchor="start" font-weight="bold" fill="#000" stroke="#000" stroke-width="0.5">H</text>
<rect x="155.5" y="367.1" width="77.3" height="139.9" fill="#ebebeb" stroke="none" stroke-width="0"/>
<line x1="181.95" y1="367.1" x2="181.95" y2="507" stroke="#ffffff" stroke-width="0.6" stroke-opacity="0.22"/>
<line x1="207.15" y1="367.1" x2="207.15" y2="507" stroke="#ffffff" stroke-width="0.6" stroke-opacity="0.22"/>
<line x1="155.5" y1="490.08" x2="232.8" y2="490.08" stroke="#ffffff" stroke-width="0.6" stroke-opacity="0.22"/>
<line x1="155.5" y1="463.64" x2="232.8" y2="463.64" stroke="#ffffff" stroke-width="0.6" stroke-opacity="0.22"/>
<line x1="155.5" y1="437.2" x2="232.8" y2="437.2" stroke="#ffffff" stroke-width="0.6" stroke-opacity="0.22"/>
<line x1="155.5" y1="410.76" x2="232.8" y2="410.76" stroke="#ffffff" stroke-width="0.6" stroke-opacity="0.22"/>
<line x1="155.5" y1="384.32" x2="232.8" y2="384.32" stroke="#ffffff" stroke-width="0.6" stroke-opacity="0.22"/>
<line x1="169.4" y1="367.1" x2="169.4" y2="507" stroke="#ffffff" stroke-width="0.9" stroke-opacity="0.36"/>
<line x1="194.5" y1="367.1" x2="194.5" y2="507" stroke="#ffffff" stroke-width="0.9" stroke-opacity="0.36"/>
<line x1="219.8" y1="367.1" x2="219.8" y2="507" stroke="#ffffff" stroke-width="0.9" stroke-opacity="0.36"/>
<line x1="155.5" y1="503.3" x2="232.8" y2="503.3" stroke="#ffffff" stroke-width="0.9" stroke-opacity="0.36"/>
<line x1="155.5" y1="476.86" x2="232.8" y2="476.86" stroke="#ffffff" stroke-width="0.9" stroke-opacity="0.36"/>
<line x1="155.5" y1="450.42" x2="232.8" y2="450.42" stroke="#ffffff" stroke-width="0.9" stroke-opacity="0.36"/>
<line x1="155.5" y1="423.98" x2="232.8" y2="423.98" stroke="#ffffff" stroke-width="0.9" stroke-opacity="0.36"/>
<line x1="155.5" y1="397.54" x2="232.8" y2="397.54" stroke="#ffffff" stroke-width="0.9" stroke-opacity="0.36"/>
<line x1="155.5" y1="371.1" x2="232.8" y2="371.1" stroke="#ffffff" stroke-width="0.9" stroke-opacity="0.36"/>
<line x1="169.4" y1="483.6" x2="169.4" y2="492.6" stroke="#333" stroke-width="1"/>
<line x1="169.4" y1="499.6" x2="169.4" y2="500.2" stroke="#333" stroke-width="1"/>
<rect x="159.7" y="492.6" width="19.4" height="7" fill="#00007f" stroke="#111" stroke-width="0.8"/>
<line x1="159.7" y1="497.6" x2="179.1" y2="497.6" stroke="#111" stroke-width="1.6"/>
<line x1="194.5" y1="470.2" x2="194.5" y2="484.4" stroke="#333" stroke-width="1"/>
<line x1="194.5" y1="497.5" x2="194.5" y2="500.5" stroke="#333" stroke-width="1"/>
<rect x="184.8" y="484.4" width="19.4" height="13.1" fill="#0000ff" stroke="#111" stroke-width="0.8"/>
<line x1="184.8" y1="491.8" x2="204.2" y2="491.8" stroke="#111" stroke-width="1.6"/>
<circle cx="194.5" cy="383" r="0.9" fill="#222"/>
<line x1="219.8" y1="474.2" x2="219.8" y2="487.7" stroke="#333" stroke-width="1"/>
<line x1="219.8" y1="499" x2="219.8" y2="500.2" stroke="#333" stroke-width="1"/>
<rect x="210.1" y="487.7" width="19.4" height="11.3" fill="#4169e1" stroke="#111" stroke-width="0.8"/>
<line x1="210.1" y1="491.8" x2="229.5" y2="491.8" stroke="#111" stroke-width="1.5"/>
<path d="M169.4,379.3 L169.4,376.5 L194.5,376.5 L194.5,379.3" fill="none" stroke="#4a4a4a" stroke-width="0.85"/>
<text x="181.95" y="375.7" font-size="4.37" text-anchor="middle" font-weight="bold" fill="#444" stroke="none">**</text>
<rect x="153.5" y="365.1" width="81.3" height="143.9" fill="none" stroke="#4c6179" stroke-width="1.8"/>
<text x="151.9" y="373.19" font-size="5.8" text-anchor="end" font-weight="bold" fill="#2a2a2a" stroke="#2a2a2a" stroke-width="0.26">25000</text>
<text x="151.9" y="399.63" font-size="5.8" text-anchor="end" font-weight="bold" fill="#2a2a2a" stroke="#2a2a2a" stroke-width="0.26">20000</text>
<text x="151.9" y="426.07" font-size="5.8" text-anchor="end" font-weight="bold" fill="#2a2a2a" stroke="#2a2a2a" stroke-width="0.26">15000</text>
<text x="151.9" y="452.51" font-size="5.8" text-anchor="end" font-weight="bold" fill="#2a2a2a" stroke="#2a2a2a" stroke-width="0.26">10000</text>
<text x="151.9" y="478.95" font-size="5.8" text-anchor="end" font-weight="bold" fill="#2a2a2a" stroke="#2a2a2a" stroke-width="0.26">5000</text>
<text x="151.9" y="505.39" font-size="5.8" text-anchor="end" font-weight="bold" fill="#2a2a2a" stroke="#2a2a2a" stroke-width="0.26">0</text>
<text x="0" y="0" font-size="7.6" text-anchor="middle" font-weight="bold" fill="#000" transform="translate(133.6 437.3) scale(0.88 1) rotate(-90)" stroke="#000" stroke-width="0.34">Length (bp)</text>
<text x="169.4" y="515.8" font-size="6.16" text-anchor="middle" font-weight="bold" fill="#111" textLength="24.02" lengthAdjust="spacingAndGlyphs" stroke="#000" stroke-width="0.18">Common</text>
<text x="194.5" y="515.8" font-size="6.16" text-anchor="middle" font-weight="bold" fill="#111" textLength="12.32" lengthAdjust="spacingAndGlyphs" stroke="#000" stroke-width="0.18">Only</text>
<text x="194.5" y="522.3" font-size="6.16" text-anchor="middle" font-weight="bold" fill="#111" textLength="11.71" lengthAdjust="spacingAndGlyphs" stroke="#000" stroke-width="0.18">Poly</text>
<text x="219.8" y="515.8" font-size="6.16" text-anchor="middle" font-weight="bold" fill="#111" textLength="12.32" lengthAdjust="spacingAndGlyphs" stroke="#000" stroke-width="0.18">Only</text>
<text x="219.8" y="522.3" font-size="6.16" text-anchor="middle" font-weight="bold" fill="#111" textLength="12.83" lengthAdjust="spacingAndGlyphs" stroke="#000" stroke-width="0.18">Total</text>
<text x="123.6" y="372.6" font-size="11.2" text-anchor="start" font-weight="bold" fill="#000" stroke="#000" stroke-width="0.5">I</text>
<rect x="261.5" y="367.5" width="86.2" height="139.9" fill="#ebebeb" stroke="none" stroke-width="0"/>
<line x1="290.8" y1="367.5" x2="290.8" y2="507.4" stroke="#ffffff" stroke-width="0.6" stroke-opacity="0.22"/>
<line x1="319.2" y1="367.5" x2="319.2" y2="507.4" stroke="#ffffff" stroke-width="0.6" stroke-opacity="0.22"/>
<line x1="261.5" y1="487.7" x2="347.7" y2="487.7" stroke="#ffffff" stroke-width="0.6" stroke-opacity="0.22"/>
<line x1="261.5" y1="454.9" x2="347.7" y2="454.9" stroke="#ffffff" stroke-width="0.6" stroke-opacity="0.22"/>
<line x1="261.5" y1="422.1" x2="347.7" y2="422.1" stroke="#ffffff" stroke-width="0.6" stroke-opacity="0.22"/>
<line x1="261.5" y1="389.3" x2="347.7" y2="389.3" stroke="#ffffff" stroke-width="0.6" stroke-opacity="0.22"/>
<line x1="276.5" y1="367.5" x2="276.5" y2="507.4" stroke="#ffffff" stroke-width="0.9" stroke-opacity="0.36"/>
<line x1="305.1" y1="367.5" x2="305.1" y2="507.4" stroke="#ffffff" stroke-width="0.9" stroke-opacity="0.36"/>
<line x1="333.3" y1="367.5" x2="333.3" y2="507.4" stroke="#ffffff" stroke-width="0.9" stroke-opacity="0.36"/>
<line x1="261.5" y1="504.1" x2="347.7" y2="504.1" stroke="#ffffff" stroke-width="0.9" stroke-opacity="0.36"/>
<line x1="261.5" y1="471.3" x2="347.7" y2="471.3" stroke="#ffffff" stroke-width="0.9" stroke-opacity="0.36"/>
<line x1="261.5" y1="438.5" x2="347.7" y2="438.5" stroke="#ffffff" stroke-width="0.9" stroke-opacity="0.36"/>
<line x1="261.5" y1="405.7" x2="347.7" y2="405.7" stroke="#ffffff" stroke-width="0.9" stroke-opacity="0.36"/>
<line x1="261.5" y1="372.9" x2="347.7" y2="372.9" stroke="#ffffff" stroke-width="0.9" stroke-opacity="0.36"/>
<line x1="276.5" y1="420.5" x2="276.5" y2="445" stroke="#333" stroke-width="1"/>
<line x1="276.5" y1="464.6" x2="276.5" y2="487.5" stroke="#333" stroke-width="1"/>
<path d="M265.6,445 L287.4,445 L287.4,447.5 L281.8,453.7 L287.4,461.4 L287.4,464.6 L265.6,464.6 L265.6,461.4 L271.2,453.7 L265.6,447.5 Z" fill="#00007f" stroke="#111" stroke-width="0.9" stroke-linejoin="miter"/>
<line x1="271.2" y1="453.7" x2="281.8" y2="453.7" stroke="#111" stroke-width="1.3"/>
<line x1="305.1" y1="404.9" x2="305.1" y2="436.3" stroke="#333" stroke-width="1"/>
<line x1="305.1" y1="464.6" x2="305.1" y2="490" stroke="#333" stroke-width="1"/>
<path d="M294.2,436.3 L316,436.3 L316,441.7 L310.6,452.7 L316,461.4 L316,464.6 L294.2,464.6 L294.2,461.4 L299.6,452.7 L294.2,441.7 Z" fill="#0000ff" stroke="#111" stroke-width="0.9" stroke-linejoin="miter"/>
<line x1="299.6" y1="452.7" x2="310.6" y2="452.7" stroke="#111" stroke-width="1.3"/>
<line x1="333.3" y1="410.6" x2="333.3" y2="438.5" stroke="#333" stroke-width="1"/>
<line x1="333.3" y1="462" x2="333.3" y2="481" stroke="#333" stroke-width="1"/>
<path d="M322.4,438.5 L344.2,438.5 L344.2,444.2 L338.9,455.6 L344.7,463.6 L321.9,463.6 L327.7,455.6 L322.4,444.2 Z" fill="#4169e1" stroke="#111" stroke-width="0.9"/>
<line x1="327.7" y1="455.6" x2="338.9" y2="455.6" stroke="#111" stroke-width="1.3"/>
<circle cx="305.1" cy="386.5" r="0.7" fill="#333"/>
<circle cx="333.3" cy="502.8" r="0.7" fill="#333"/>
<rect x="259.5" y="365.5" width="90.2" height="143.9" fill="none" stroke="#4c6179" stroke-width="1.8"/>
<text x="257.9" y="374.6" font-size="6.2" text-anchor="end" font-weight="bold" fill="#2a2a2a" stroke="#2a2a2a" stroke-width="0.28">70</text>
<text x="257.9" y="407.4" font-size="6.2" text-anchor="end" font-weight="bold" fill="#2a2a2a" stroke="#2a2a2a" stroke-width="0.28">60</text>
<text x="257.9" y="440.2" font-size="6.2" text-anchor="end" font-weight="bold" fill="#2a2a2a" stroke="#2a2a2a" stroke-width="0.28">50</text>
<text x="257.9" y="473" font-size="6.2" text-anchor="end" font-weight="bold" fill="#2a2a2a" stroke="#2a2a2a" stroke-width="0.28">40</text>
<text x="257.9" y="505.8" font-size="6.2" text-anchor="end" font-weight="bold" fill="#2a2a2a" stroke="#2a2a2a" stroke-width="0.28">30</text>
<text x="0" y="0" font-size="7.4" text-anchor="middle" font-weight="bold" fill="#000" transform="translate(248.6 438) scale(0.88 1) rotate(-90)" textLength="47.9" lengthAdjust="spacingAndGlyphs" stroke="#000" stroke-width="0.33">%GC Content</text>
<text x="276.5" y="516.8" font-size="6.16" text-anchor="middle" font-weight="bold" fill="#111" textLength="24.02" lengthAdjust="spacingAndGlyphs" stroke="#000" stroke-width="0.18">Common</text>
<text x="305.1" y="516.8" font-size="6.16" text-anchor="middle" font-weight="bold" fill="#111" textLength="12.32" lengthAdjust="spacingAndGlyphs" stroke="#000" stroke-width="0.18">Only</text>
<text x="305.1" y="523.6" font-size="6.16" text-anchor="middle" font-weight="bold" fill="#111" textLength="11.71" lengthAdjust="spacingAndGlyphs" stroke="#000" stroke-width="0.18">Poly</text>
<text x="333.3" y="516.8" font-size="6.16" text-anchor="middle" font-weight="bold" fill="#111" textLength="12.32" lengthAdjust="spacingAndGlyphs" stroke="#000" stroke-width="0.18">Only</text>
<text x="333.3" y="523.6" font-size="6.16" text-anchor="middle" font-weight="bold" fill="#111" textLength="12.83" lengthAdjust="spacingAndGlyphs" stroke="#000" stroke-width="0.18">Total</text>
<text x="241.2" y="371.8" font-size="12.2" text-anchor="start" font-weight="bold" fill="#000" stroke="#000" stroke-width="0.55">J</text>
<rect x="384.8" y="371.6" width="162.2" height="115.4" fill="#ffffff" stroke="none" stroke-width="0"/>
<path d="M385.6,480.9 L475.4,480.9 L475.4,477 L494.9,477 L494.9,469.6 L499,469.6 L499,464.1 L509.4,464.1 L509.4,453.5 L513.3,453.5 L513.3,442.6 L522.1,442.6 L522.1,414.9 L528.4,414.9 L528.4,394.2 L530.8,394.2 L530.8,387.9 L532.1,387.9 L532.1,377 L546.2,377" fill="none" stroke="#00007f" stroke-width="1.45" stroke-linejoin="miter"/>
<path d="M385.6,480.9 L411.5,480.9 L411.5,477.1 L420.5,477.1 L420.5,474.2 L432.8,474.2 L432.8,472.2 L447.5,472.2 L447.5,469.6 L454.9,469.6 L454.9,468 L457.4,468 L457.4,465.2 L461.5,465.2 L461.5,460.3 L474.5,460.3 L474.5,457.8 L477,457.8 L477,455.4 L483.2,455.4 L483.2,453 L486.3,453 L486.3,448.2 L489.5,448.2 L489.5,445 L492.7,445 L492.7,443.4 L495.9,443.4 L495.9,438.7 L500.6,438.7 L500.6,435.5 L503.8,435.5 L503.8,430.7 L508.6,430.7 L508.6,424.4 L510.2,424.4 L510.2,418.8 L514.9,418.8 L514.9,412.5 L518.1,412.5 L518.1,407.7 L521.3,407.7 L521.3,403 L523.7,403 L523.7,399.8 L525.2,399.8 L525.2,391 L527.6,391 L527.6,386.3 L529.2,386.3 L529.2,383.1 L531.6,383.1 L531.6,377 L546.2,377" fill="none" stroke="#0000ff" stroke-width="1.45" stroke-linejoin="miter"/>
<path d="M385.6,480.9 L446.7,480.9 L446.7,475 L463.1,475 L463.1,469.3 L481.1,469.3 L481.1,464.1 L484,464.1 L484,458 L490.3,458 L490.3,446.6 L495.1,446.6 L495.1,435.5 L503,435.5 L503,423.6 L514.1,423.6 L514.1,418 L522.1,418 L522.1,406.1 L528.4,406.1 L528.4,392.6 L532.4,392.6 L532.4,377 L546.2,377" fill="none" stroke="#5cb0f0" stroke-width="1.45" stroke-linejoin="miter"/>
<line x1="387" y1="376" x2="397.2" y2="376" stroke="#00007f" stroke-width="1.7"/>
<text x="398.1" y="377.2" font-size="3.8" text-anchor="start" font-weight="bold" fill="#333" textLength="5.8" lengthAdjust="spacingAndGlyphs" stroke="none">vs.</text>
<line x1="405.1" y1="376" x2="416.4" y2="376" stroke="#0000ff" stroke-width="1.7"/>
<text x="417.7" y="377.6" font-size="4.6" text-anchor="start" font-weight="bold" fill="#111" textLength="14.8" lengthAdjust="spacingAndGlyphs" stroke="#111" stroke-width="0.21">p&lt;0.01</text>
<line x1="387" y1="384" x2="397.2" y2="384" stroke="#5cb0f0" stroke-width="1.7"/>
<text x="398.1" y="385.2" font-size="3.8" text-anchor="start" font-weight="bold" fill="#333" textLength="5.8" lengthAdjust="spacingAndGlyphs" stroke="none">vs.</text>
<line x1="405.1" y1="384" x2="416.4" y2="384" stroke="#00007f" stroke-width="1.7"/>
<text x="417.7" y="385.6" font-size="4.6" text-anchor="start" font-weight="bold" fill="#111" textLength="4.9" lengthAdjust="spacingAndGlyphs" stroke="#111" stroke-width="0.21">ns</text>
<line x1="387" y1="392.2" x2="397.2" y2="392.2" stroke="#5cb0f0" stroke-width="1.7"/>
<text x="398.1" y="393.4" font-size="3.8" text-anchor="start" font-weight="bold" fill="#333" textLength="5.8" lengthAdjust="spacingAndGlyphs" stroke="none">vs.</text>
<line x1="405.1" y1="392.2" x2="416.4" y2="392.2" stroke="#0000ff" stroke-width="1.7"/>
<text x="417.7" y="393.8" font-size="4.6" text-anchor="start" font-weight="bold" fill="#111" textLength="4.9" lengthAdjust="spacingAndGlyphs" stroke="#111" stroke-width="0.21">ns</text>
<rect x="384.8" y="371.6" width="162.2" height="115.4" fill="none" stroke="#4c6179" stroke-width="1.8"/>
<text x="382.6" y="379.23" font-size="6.2" text-anchor="end" font-weight="bold" fill="#2a2a2a" stroke="#2a2a2a" stroke-width="0.28">1.00</text>
<text x="382.6" y="405.21" font-size="6.2" text-anchor="end" font-weight="bold" fill="#2a2a2a" stroke="#2a2a2a" stroke-width="0.28">0.75</text>
<text x="382.6" y="431.18" font-size="6.2" text-anchor="end" font-weight="bold" fill="#2a2a2a" stroke="#2a2a2a" stroke-width="0.28">0.50</text>
<text x="382.6" y="457.16" font-size="6.2" text-anchor="end" font-weight="bold" fill="#2a2a2a" stroke="#2a2a2a" stroke-width="0.28">0.25</text>
<text x="382.6" y="483.13" font-size="6.2" text-anchor="end" font-weight="bold" fill="#2a2a2a" stroke="#2a2a2a" stroke-width="0.28">0.00</text>
<text x="391.2" y="493.1" font-size="5.8" text-anchor="middle" font-weight="bold" fill="#2a2a2a" stroke="#2a2a2a" stroke-width="0.26">-2500</text>
<text x="420.8" y="493.1" font-size="5.8" text-anchor="middle" font-weight="bold" fill="#2a2a2a" stroke="#2a2a2a" stroke-width="0.26">-2000</text>
<text x="450.4" y="493.1" font-size="5.8" text-anchor="middle" font-weight="bold" fill="#2a2a2a" stroke="#2a2a2a" stroke-width="0.26">-1500</text>
<text x="480" y="493.1" font-size="5.8" text-anchor="middle" font-weight="bold" fill="#2a2a2a" stroke="#2a2a2a" stroke-width="0.26">-1000</text>
<text x="509.6" y="493.1" font-size="5.8" text-anchor="middle" font-weight="bold" fill="#2a2a2a" stroke="#2a2a2a" stroke-width="0.26">-500</text>
<text x="539.2" y="493.1" font-size="5.8" text-anchor="middle" font-weight="bold" fill="#2a2a2a" stroke="#2a2a2a" stroke-width="0.26">0</text>
<text x="465.7" y="501" font-size="7.9" text-anchor="middle" font-weight="bold" fill="#000" textLength="121.8" lengthAdjust="spacingAndGlyphs" stroke="#000" stroke-width="0.36">Minimum Free Energy (kcal/mol)</text>
<text x="0" y="0" font-size="7.95" text-anchor="middle" font-weight="bold" fill="#000" transform="translate(367.5 428.7) scale(0.88 1) rotate(-90)" textLength="83" lengthAdjust="spacingAndGlyphs" stroke="#000" stroke-width="0.36">Cumulative Frequency</text>
<text x="386.8" y="515" font-size="7.57" text-anchor="start" font-weight="bold" fill="#000" textLength="33.4" lengthAdjust="spacingAndGlyphs" stroke="#000" stroke-width="0.34">Category</text>
<line x1="424" y1="511.7" x2="429.5" y2="511.7" stroke="#00007f" stroke-width="1.6"/>
<text x="433.2" y="513.7" font-size="5.9" text-anchor="start" font-weight="bold" fill="#000" textLength="26.6" lengthAdjust="spacingAndGlyphs" stroke="#000" stroke-width="0.27">Common</text>
<line x1="463" y1="511.7" x2="468.5" y2="511.7" stroke="#0000ff" stroke-width="1.6"/>
<text x="472.7" y="513.7" font-size="5.9" text-anchor="start" font-weight="bold" fill="#000" textLength="27.2" lengthAdjust="spacingAndGlyphs" stroke="#000" stroke-width="0.27">Only Poly</text>
<line x1="505.3" y1="511.7" x2="510.8" y2="511.7" stroke="#5cb0f0" stroke-width="1.6"/>
<text x="515.1" y="513.7" font-size="5.9" text-anchor="start" font-weight="bold" fill="#000" textLength="28.7" lengthAdjust="spacingAndGlyphs" stroke="#000" stroke-width="0.27">Only Total</text>
<text x="357.2" y="372.6" font-size="11.2" text-anchor="start" font-weight="bold" fill="#000" stroke="#000" stroke-width="0.5">K</text>
<rect x="41.6" y="545.5" width="163.7" height="125.3" fill="#ffffff" stroke="none" stroke-width="0"/>
<rect x="122.7" y="545.5" width="82.6" height="78.7" fill="#edf1f7" stroke="none" stroke-width="0"/>
<line x1="122.7" y1="546.3" x2="122.7" y2="670" stroke="#3a3a3a" stroke-width="1.1" stroke-dasharray="2.0,1.5"/>
<line x1="42.4" y1="624.2" x2="204.5" y2="624.2" stroke="#3a3a3a" stroke-width="1.1" stroke-dasharray="2.0,1.5"/>
<circle cx="168.8" cy="614.7" r="2.45" fill="#00007f"/>
<circle cx="150.3" cy="632" r="2.45" fill="#00007f"/>
<circle cx="188.2" cy="649.5" r="2.45" fill="#00007f"/>
<circle cx="53.1" cy="652.8" r="2.45" fill="#00007f"/>
<circle cx="55.5" cy="653.6" r="2.45" fill="#00007f"/>
<circle cx="73.5" cy="664" r="2.45" fill="#00007f"/>
<circle cx="68.6" cy="665" r="2.45" fill="#00007f"/>
<circle cx="60.9" cy="658.8" r="2.45" fill="#00007f"/>
<circle cx="69.8" cy="661.8" r="2.45" fill="#00007f"/>
<circle cx="52.5" cy="651.3" r="2.45" fill="#00007f"/>
<circle cx="94.6" cy="583.7" r="2.45" fill="#0000ff"/>
<circle cx="124.3" cy="601.5" r="2.45" fill="#0000ff"/>
<circle cx="153.3" cy="613.8" r="2.45" fill="#0000ff"/>
<circle cx="174.2" cy="637.3" r="2.45" fill="#0000ff"/>
<circle cx="181.7" cy="658.7" r="2.45" fill="#0000ff"/>
<circle cx="116.9" cy="647.8" r="2.45" fill="#0000ff"/>
<circle cx="99.6" cy="660.3" r="2.45" fill="#0000ff"/>
<circle cx="76.4" cy="639.4" r="2.45" fill="#0000ff"/>
<circle cx="61" cy="646.3" r="2.45" fill="#0000ff"/>
<circle cx="70.8" cy="648.7" r="2.45" fill="#0000ff"/>
<circle cx="74" cy="648.7" r="2.45" fill="#0000ff"/>
<circle cx="95.3" cy="646" r="2.45" fill="#0000ff"/>
<circle cx="56.4" cy="649.2" r="2.45" fill="#0000ff"/>
<circle cx="90.7" cy="656.4" r="2.45" fill="#0000ff"/>
<circle cx="82.9" cy="659" r="2.45" fill="#0000ff"/>
<circle cx="100.2" cy="660.7" r="2.45" fill="#0000ff"/>
<circle cx="80.9" cy="663.5" r="2.45" fill="#0000ff"/>
<circle cx="61.3" cy="656.1" r="2.45" fill="#0000ff"/>
<circle cx="64.5" cy="658.5" r="2.45" fill="#0000ff"/>
<circle cx="68.6" cy="657.7" r="2.45" fill="#0000ff"/>
<circle cx="69.5" cy="660.2" r="2.45" fill="#0000ff"/>
<circle cx="59.6" cy="663.5" r="2.45" fill="#0000ff"/>
<circle cx="56.4" cy="664.3" r="2.45" fill="#0000ff"/>
<circle cx="65" cy="662" r="2.45" fill="#0000ff"/>
<circle cx="72" cy="663" r="2.45" fill="#0000ff"/>
<circle cx="86" cy="658" r="2.45" fill="#0000ff"/>
<circle cx="66.2" cy="636.5" r="2.45" fill="#5cb0f0"/>
<circle cx="85.5" cy="639.7" r="2.45" fill="#5cb0f0"/>
<circle cx="92.4" cy="646.3" r="2.45" fill="#5cb0f0"/>
<circle cx="84.5" cy="655.3" r="2.45" fill="#5cb0f0"/>
<circle cx="88.8" cy="660.7" r="2.45" fill="#5cb0f0"/>
<circle cx="123.5" cy="660.7" r="2.45" fill="#5cb0f0"/>
<circle cx="58" cy="658.5" r="2.45" fill="#5cb0f0"/>
<circle cx="52.3" cy="661" r="2.45" fill="#5cb0f0"/>
<circle cx="50.6" cy="664.3" r="2.45" fill="#5cb0f0"/>
<circle cx="53.1" cy="663.5" r="2.45" fill="#5cb0f0"/>
<circle cx="62.9" cy="664" r="2.45" fill="#5cb0f0"/>
<circle cx="66.2" cy="664.3" r="2.45" fill="#5cb0f0"/>
<circle cx="72.4" cy="664.3" r="2.45" fill="#5cb0f0"/>
<circle cx="48.5" cy="665.2" r="2.45" fill="#5cb0f0"/>
<circle cx="55" cy="665.3" r="2.45" fill="#5cb0f0"/>
<text x="114.5" y="596.5" font-size="4.7" text-anchor="middle" font-weight="normal" fill="#4a4af0" textLength="15.3" lengthAdjust="spacingAndGlyphs">DANCR</text>
<text x="140.9" y="609.9" font-size="4.7" text-anchor="middle" font-weight="normal" fill="#4a4af0" textLength="22.2" lengthAdjust="spacingAndGlyphs">LINC00565</text>
<text x="181.9" y="610.5" font-size="4.7" text-anchor="middle" font-weight="normal" fill="#4040a0" textLength="21.8" lengthAdjust="spacingAndGlyphs">LINC01554</text>
<text x="65" y="559.6" font-size="6.8" text-anchor="middle" font-weight="bold" fill="#000" textLength="19.1" lengthAdjust="spacingAndGlyphs" stroke="#000" stroke-width="0.1">r= 0.58</text>
<text x="67.2" y="569.2" font-size="6.8" text-anchor="middle" font-weight="bold" fill="#000" textLength="35.2" lengthAdjust="spacingAndGlyphs" stroke="#000" stroke-width="0.1">p= 1.008e-08</text>
<rect x="41.6" y="545.5" width="163.7" height="125.3" fill="none" stroke="#4c6179" stroke-width="1.8"/>
<text x="38.8" y="553.57" font-size="6.3" text-anchor="end" font-weight="bold" fill="#2a2a2a" stroke="#2a2a2a" stroke-width="0.28">1.00</text>
<text x="38.8" y="582.12" font-size="6.3" text-anchor="end" font-weight="bold" fill="#2a2a2a" stroke="#2a2a2a" stroke-width="0.28">0.75</text>
<text x="38.8" y="610.67" font-size="6.3" text-anchor="end" font-weight="bold" fill="#2a2a2a" stroke="#2a2a2a" stroke-width="0.28">0.50</text>
<text x="38.8" y="639.22" font-size="6.3" text-anchor="end" font-weight="bold" fill="#2a2a2a" stroke="#2a2a2a" stroke-width="0.28">0.25</text>
<text x="38.8" y="667.77" font-size="6.3" text-anchor="end" font-weight="bold" fill="#2a2a2a" stroke="#2a2a2a" stroke-width="0.28">0.00</text>
<text x="46.9" y="679.2" font-size="6.3" text-anchor="middle" font-weight="bold" fill="#2a2a2a" stroke="#2a2a2a" stroke-width="0.28">0.00</text>
<text x="84.8" y="679.2" font-size="6.3" text-anchor="middle" font-weight="bold" fill="#2a2a2a" stroke="#2a2a2a" stroke-width="0.28">0.25</text>
<text x="122.7" y="679.2" font-size="6.3" text-anchor="middle" font-weight="bold" fill="#2a2a2a" stroke="#2a2a2a" stroke-width="0.28">0.50</text>
<text x="160.6" y="679.2" font-size="6.3" text-anchor="middle" font-weight="bold" fill="#2a2a2a" stroke="#2a2a2a" stroke-width="0.28">0.75</text>
<text x="198.5" y="679.2" font-size="6.3" text-anchor="middle" font-weight="bold" fill="#2a2a2a" stroke="#2a2a2a" stroke-width="0.28">1.00</text>
<text x="124" y="687.2" font-size="7.6" text-anchor="middle" font-weight="bold" fill="#000" stroke="#000" stroke-width="0.34">Coding Probability (CPC2)</text>
<text x="0" y="0" font-size="7.6" text-anchor="middle" font-weight="bold" fill="#000" transform="translate(24 608.5) scale(0.88 1) rotate(-90)" stroke="#000" stroke-width="0.34">Coding Probability (CPAT)</text>
<text x="47.7" y="703.1" font-size="7.5" text-anchor="start" font-weight="bold" fill="#000" textLength="30.6" lengthAdjust="spacingAndGlyphs" stroke="#000" stroke-width="0.34">Category</text>
<circle cx="87" cy="700.5" r="2.2" fill="#00007f"/>
<text x="93.5" y="702.6" font-size="6" text-anchor="start" font-weight="bold" fill="#000" textLength="23" lengthAdjust="spacingAndGlyphs" stroke="#000" stroke-width="0.27">Common</text>
<circle cx="126" cy="700.5" r="2.2" fill="#0000ff"/>
<text x="131.7" y="702.6" font-size="6" text-anchor="start" font-weight="bold" fill="#000" textLength="26.8" lengthAdjust="spacingAndGlyphs" stroke="#000" stroke-width="0.27">Only Poly</text>
<circle cx="164.2" cy="700.5" r="2.2" fill="#5cb0f0"/>
<text x="171.3" y="702.6" font-size="6" text-anchor="start" font-weight="bold" fill="#000" textLength="28.3" lengthAdjust="spacingAndGlyphs" stroke="#000" stroke-width="0.27">Only Total</text>
<text x="11" y="544" font-size="12" text-anchor="start" font-weight="bold" fill="#000" stroke="#000" stroke-width="0.54">L</text>
<rect x="256.4" y="543.3" width="110" height="138.6" fill="#ebebeb" stroke="none" stroke-width="0"/>
<line x1="293.75" y1="543.3" x2="293.75" y2="681.9" stroke="#ffffff" stroke-width="0.6" stroke-opacity="0.22"/>
<line x1="329.55" y1="543.3" x2="329.55" y2="681.9" stroke="#ffffff" stroke-width="0.6" stroke-opacity="0.22"/>
<line x1="256.4" y1="661.11" x2="366.4" y2="661.11" stroke="#ffffff" stroke-width="0.6" stroke-opacity="0.22"/>
<line x1="256.4" y1="628.94" x2="366.4" y2="628.94" stroke="#ffffff" stroke-width="0.6" stroke-opacity="0.22"/>
<line x1="256.4" y1="596.76" x2="366.4" y2="596.76" stroke="#ffffff" stroke-width="0.6" stroke-opacity="0.22"/>
<line x1="256.4" y1="564.59" x2="366.4" y2="564.59" stroke="#ffffff" stroke-width="0.6" stroke-opacity="0.22"/>
<line x1="275.9" y1="543.3" x2="275.9" y2="681.9" stroke="#ffffff" stroke-width="0.9" stroke-opacity="0.36"/>
<line x1="311.6" y1="543.3" x2="311.6" y2="681.9" stroke="#ffffff" stroke-width="0.9" stroke-opacity="0.36"/>
<line x1="347.5" y1="543.3" x2="347.5" y2="681.9" stroke="#ffffff" stroke-width="0.9" stroke-opacity="0.36"/>
<line x1="256.4" y1="677.2" x2="366.4" y2="677.2" stroke="#ffffff" stroke-width="0.9" stroke-opacity="0.36"/>
<line x1="256.4" y1="645.03" x2="366.4" y2="645.03" stroke="#ffffff" stroke-width="0.9" stroke-opacity="0.36"/>
<line x1="256.4" y1="612.85" x2="366.4" y2="612.85" stroke="#ffffff" stroke-width="0.9" stroke-opacity="0.36"/>
<line x1="256.4" y1="580.68" x2="366.4" y2="580.68" stroke="#ffffff" stroke-width="0.9" stroke-opacity="0.36"/>
<line x1="256.4" y1="548.5" x2="366.4" y2="548.5" stroke="#ffffff" stroke-width="0.9" stroke-opacity="0.36"/>
<rect x="260.15" y="649.9" width="10.5" height="27.3" fill="#00007f" stroke="none" stroke-width="0"/>
<rect x="270.65" y="557.6" width="10.5" height="119.6" fill="#0000ff" stroke="none" stroke-width="0"/>
<line x1="270.65" y1="649.9" x2="270.65" y2="677.2" stroke="#ffffff" stroke-width="0.35" stroke-opacity="0.5"/>
<rect x="281.15" y="641.4" width="10.5" height="35.8" fill="#4169e1" stroke="none" stroke-width="0"/>
<line x1="281.15" y1="641.4" x2="281.15" y2="677.2" stroke="#ffffff" stroke-width="0.35" stroke-opacity="0.5"/>
<rect x="295.85" y="650.7" width="10.5" height="26.5" fill="#00007f" stroke="none" stroke-width="0"/>
<rect x="306.35" y="559.1" width="10.5" height="118.1" fill="#0000ff" stroke="none" stroke-width="0"/>
<line x1="306.35" y1="650.7" x2="306.35" y2="677.2" stroke="#ffffff" stroke-width="0.35" stroke-opacity="0.5"/>
<rect x="316.85" y="637" width="10.5" height="40.2" fill="#4169e1" stroke="none" stroke-width="0"/>
<line x1="316.85" y1="637" x2="316.85" y2="677.2" stroke="#ffffff" stroke-width="0.35" stroke-opacity="0.5"/>
<rect x="331.75" y="641.8" width="10.5" height="35.4" fill="#00007f" stroke="none" stroke-width="0"/>
<rect x="342.25" y="555.3" width="10.5" height="121.9" fill="#0000ff" stroke="none" stroke-width="0"/>
<line x1="342.25" y1="641.8" x2="342.25" y2="677.2" stroke="#ffffff" stroke-width="0.35" stroke-opacity="0.5"/>
<rect x="352.75" y="636.2" width="10.5" height="41" fill="#4169e1" stroke="none" stroke-width="0"/>
<line x1="352.75" y1="636.2" x2="352.75" y2="677.2" stroke="#ffffff" stroke-width="0.35" stroke-opacity="0.5"/>
<rect x="254.4" y="541.3" width="114" height="142.6" fill="none" stroke="#4c6179" stroke-width="1.8"/>
<text x="252.3" y="551.02" font-size="7" text-anchor="end" font-weight="bold" fill="#2a2a2a" stroke="#2a2a2a" stroke-width="0.32">200</text>
<text x="252.3" y="583.2" font-size="7" text-anchor="end" font-weight="bold" fill="#2a2a2a" stroke="#2a2a2a" stroke-width="0.32">150</text>
<text x="252.3" y="615.37" font-size="7" text-anchor="end" font-weight="bold" fill="#2a2a2a" stroke="#2a2a2a" stroke-width="0.32">100</text>
<text x="252.3" y="647.55" font-size="7" text-anchor="end" font-weight="bold" fill="#2a2a2a" stroke="#2a2a2a" stroke-width="0.32">50</text>
<text x="252.3" y="679.72" font-size="7" text-anchor="end" font-weight="bold" fill="#2a2a2a" stroke="#2a2a2a" stroke-width="0.32">0</text>
<text x="275.9" y="692" font-size="7" text-anchor="middle" font-weight="bold" fill="#222" stroke="#222" stroke-width="0.32">1</text>
<text x="311.6" y="692" font-size="7" text-anchor="middle" font-weight="bold" fill="#222" stroke="#222" stroke-width="0.32">2</text>
<text x="347.5" y="692" font-size="7" text-anchor="middle" font-weight="bold" fill="#222" stroke="#222" stroke-width="0.32">3</text>
<text x="311.9" y="701.5" font-size="9.1" text-anchor="middle" font-weight="bold" fill="#000" textLength="27.4" lengthAdjust="spacingAndGlyphs" stroke="#000" stroke-width="0.41">Frame</text>
<text x="0" y="0" font-size="9.1" text-anchor="middle" font-weight="bold" fill="#000" transform="translate(237.8 612.6) scale(0.88 1) rotate(-90)" stroke="#000" stroke-width="0.41">count</text>
<text x="221.4" y="544" font-size="10.8" text-anchor="start" font-weight="bold" fill="#000" stroke="#000" stroke-width="0.49">M</text>
<rect x="417.4" y="537.7" width="109.9" height="141.6" fill="#ebebeb" stroke="none" stroke-width="0"/>
<line x1="454.45" y1="537.7" x2="454.45" y2="679.3" stroke="#ffffff" stroke-width="0.6" stroke-opacity="0.22"/>
<line x1="489.8" y1="537.7" x2="489.8" y2="679.3" stroke="#ffffff" stroke-width="0.6" stroke-opacity="0.22"/>
<line x1="417.4" y1="653.42" x2="527.3" y2="653.42" stroke="#ffffff" stroke-width="0.6" stroke-opacity="0.22"/>
<line x1="417.4" y1="609.25" x2="527.3" y2="609.25" stroke="#ffffff" stroke-width="0.6" stroke-opacity="0.22"/>
<line x1="417.4" y1="565.09" x2="527.3" y2="565.09" stroke="#ffffff" stroke-width="0.6" stroke-opacity="0.22"/>
<line x1="436.7" y1="537.7" x2="436.7" y2="679.3" stroke="#ffffff" stroke-width="0.9" stroke-opacity="0.36"/>
<line x1="472.2" y1="537.7" x2="472.2" y2="679.3" stroke="#ffffff" stroke-width="0.9" stroke-opacity="0.36"/>
<line x1="507.4" y1="537.7" x2="507.4" y2="679.3" stroke="#ffffff" stroke-width="0.9" stroke-opacity="0.36"/>
<line x1="417.4" y1="675.5" x2="527.3" y2="675.5" stroke="#ffffff" stroke-width="0.9" stroke-opacity="0.36"/>
<line x1="417.4" y1="631.34" x2="527.3" y2="631.34" stroke="#ffffff" stroke-width="0.9" stroke-opacity="0.36"/>
<line x1="417.4" y1="587.17" x2="527.3" y2="587.17" stroke="#ffffff" stroke-width="0.9" stroke-opacity="0.36"/>
<line x1="417.4" y1="543" x2="527.3" y2="543" stroke="#ffffff" stroke-width="0.9" stroke-opacity="0.36"/>
<line x1="436.7" y1="599.8" x2="436.7" y2="665.9" stroke="#8c8c8c" stroke-width="0.9"/>
<rect x="423.3" y="634.1" width="26.8" height="23.9" fill="#00007f" stroke="none" stroke-width="0"/>
<line x1="423.3" y1="644.9" x2="450.1" y2="644.9" stroke="#303070" stroke-width="1.1"/>
<circle cx="436.7" cy="642" r="1.65" fill="#ff0000"/>
<rect x="436.1" y="597.8" width="1.2" height="1.2" fill="#444" stroke="none" stroke-width="0"/>
<rect x="436.1" y="551.6" width="1.2" height="1.2" fill="#444" stroke="none" stroke-width="0"/>
<rect x="436.1" y="542.9" width="1.2" height="1.2" fill="#444" stroke="none" stroke-width="0"/>
<line x1="472.2" y1="598.4" x2="472.2" y2="666.7" stroke="#8c8c8c" stroke-width="0.9"/>
<rect x="458.8" y="634.1" width="26.8" height="25.4" fill="#0000ff" stroke="none" stroke-width="0"/>
<line x1="458.8" y1="650.1" x2="485.6" y2="650.1" stroke="#202090" stroke-width="1.1"/>
<circle cx="472.2" cy="643.5" r="1.65" fill="#ff0000"/>
<rect x="471.6" y="596.4" width="1.2" height="1.2" fill="#444" stroke="none" stroke-width="0"/>
<rect x="471.6" y="593.4" width="1.2" height="1.2" fill="#444" stroke="none" stroke-width="0"/>
<rect x="471.6" y="590.4" width="1.2" height="1.2" fill="#444" stroke="none" stroke-width="0"/>
<rect x="471.6" y="587.4" width="1.2" height="1.2" fill="#444" stroke="none" stroke-width="0"/>
<rect x="471.6" y="584.4" width="1.2" height="1.2" fill="#444" stroke="none" stroke-width="0"/>
<rect x="471.6" y="575.4" width="1.2" height="1.2" fill="#444" stroke="none" stroke-width="0"/>
<rect x="471.6" y="571.4" width="1.2" height="1.2" fill="#444" stroke="none" stroke-width="0"/>
<rect x="471.6" y="567.4" width="1.2" height="1.2" fill="#444" stroke="none" stroke-width="0"/>
<rect x="471.6" y="564.4" width="1.2" height="1.2" fill="#444" stroke="none" stroke-width="0"/>
<rect x="471.6" y="555.4" width="1.2" height="1.2" fill="#444" stroke="none" stroke-width="0"/>
<rect x="471.6" y="552.4" width="1.2" height="1.2" fill="#444" stroke="none" stroke-width="0"/>
<rect x="471.6" y="549.4" width="1.2" height="1.2" fill="#444" stroke="none" stroke-width="0"/>
<rect x="471.6" y="547.4" width="1.2" height="1.2" fill="#444" stroke="none" stroke-width="0"/>
<line x1="507.4" y1="599.8" x2="507.4" y2="665.9" stroke="#8c8c8c" stroke-width="0.9"/>
<rect x="494" y="632.1" width="26.8" height="25" fill="#4169e1" stroke="none" stroke-width="0"/>
<line x1="494" y1="649.4" x2="520.8" y2="649.4" stroke="#203070" stroke-width="1.1"/>
<circle cx="507.4" cy="641.1" r="1.65" fill="#ff0000"/>
<rect x="506.8" y="594.4" width="1.2" height="1.2" fill="#444" stroke="none" stroke-width="0"/>
<rect x="506.8" y="591.4" width="1.2" height="1.2" fill="#444" stroke="none" stroke-width="0"/>
<rect x="506.8" y="586.4" width="1.2" height="1.2" fill="#444" stroke="none" stroke-width="0"/>
<rect x="506.8" y="567.4" width="1.2" height="1.2" fill="#444" stroke="none" stroke-width="0"/>
<rect x="506.8" y="555.4" width="1.2" height="1.2" fill="#444" stroke="none" stroke-width="0"/>
<rect x="506.8" y="552.4" width="1.2" height="1.2" fill="#444" stroke="none" stroke-width="0"/>
<rect x="506.8" y="549.4" width="1.2" height="1.2" fill="#444" stroke="none" stroke-width="0"/>
<rect x="506.8" y="546.4" width="1.2" height="1.2" fill="#444" stroke="none" stroke-width="0"/>
<rect x="415.4" y="535.7" width="113.9" height="145.6" fill="none" stroke="#4c6179" stroke-width="1.8"/>
<text x="413.5" y="545.35" font-size="6.5" text-anchor="end" font-weight="bold" fill="#2a2a2a" stroke="#2a2a2a" stroke-width="0.29">150</text>
<text x="413.5" y="589.51" font-size="6.5" text-anchor="end" font-weight="bold" fill="#2a2a2a" stroke="#2a2a2a" stroke-width="0.29">100</text>
<text x="413.5" y="633.68" font-size="6.5" text-anchor="end" font-weight="bold" fill="#2a2a2a" stroke="#2a2a2a" stroke-width="0.29">50</text>
<text x="413.5" y="677.84" font-size="6.5" text-anchor="end" font-weight="bold" fill="#2a2a2a" stroke="#2a2a2a" stroke-width="0.29">0</text>
<text x="0" y="0" font-size="8.2" text-anchor="middle" font-weight="bold" fill="#000" transform="translate(401 609) scale(0.88 1) rotate(-90)" stroke="#000" stroke-width="0.37">ORF size (aa)</text>
<text x="436.7" y="688.8" font-size="6.82" text-anchor="middle" font-weight="bold" fill="#111" textLength="26.6" lengthAdjust="spacingAndGlyphs" stroke="#000" stroke-width="0.18">Common</text>
<text x="472.2" y="688.8" font-size="6.82" text-anchor="middle" font-weight="bold" fill="#111" textLength="13.64" lengthAdjust="spacingAndGlyphs" stroke="#000" stroke-width="0.18">Only</text>
<text x="472.2" y="696.2" font-size="6.82" text-anchor="middle" font-weight="bold" fill="#111" textLength="12.96" lengthAdjust="spacingAndGlyphs" stroke="#000" stroke-width="0.18">Poly</text>
<text x="507.4" y="688.8" font-size="6.82" text-anchor="middle" font-weight="bold" fill="#111" textLength="13.64" lengthAdjust="spacingAndGlyphs" stroke="#000" stroke-width="0.18">Only</text>
<text x="507.4" y="696.2" font-size="6.82" text-anchor="middle" font-weight="bold" fill="#111" textLength="14.21" lengthAdjust="spacingAndGlyphs" stroke="#000" stroke-width="0.18">Total</text>
<text x="389" y="543.8" font-size="11.2" text-anchor="start" font-weight="bold" fill="#000" stroke="#000" stroke-width="0.5">N</text></svg></body></html>
